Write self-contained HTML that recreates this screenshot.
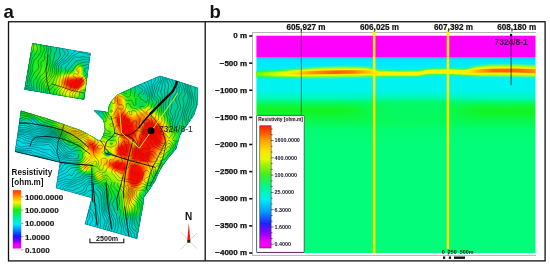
<!DOCTYPE html>
<html lang="en"><head><meta charset="utf-8"><title>Resistivity figure</title>
<style>html,body{margin:0;padding:0;background:#fff;}svg{display:block;}</style></head><body>
<svg width="550" height="266" viewBox="0 0 550 266">
<rect width="550" height="266" fill="#fff"/>
<rect x="8.5" y="21.75" width="536.6" height="239.15" fill="none" stroke="#111" stroke-width="1.3"/>
<path d="M205.2 21.75V260.9" stroke="#111" stroke-width="1.3"/>
<text x="3.6" y="18" font-family='"Liberation Sans", sans-serif' font-weight="bold" font-size="18.5" fill="#111">a</text>
<text x="209.6" y="18" font-family='"Liberation Sans", sans-serif' font-weight="bold" font-size="18.5" fill="#111">b</text>
<defs><clipPath id="mapclip"><polygon points="32.5,43.3 90.5,53.2 84.0,99.5 24.5,89.5"/><polygon points="21.0,110.8 45.0,118.0 64.0,124.4 81.0,130.5 92.0,136.5 98.0,140.2 100.5,140.6 103.0,136.0 105.0,130.0 104.5,124.0 103.0,119.5 94.0,110.6 101.0,111.0 108.0,112.3 109.0,106.0 111.0,101.8 117.0,95.0 135.0,86.6 155.0,78.0 160.0,76.0 177.0,81.0 198.0,88.0 197.2,105.0 194.0,115.0 187.0,125.0 180.0,135.0 176.0,149.0 169.0,157.0 163.0,165.0 158.5,173.0 155.0,181.0 149.5,189.5 144.0,197.0 143.0,205.5 137.0,238.7 85.0,224.0 91.8,197.8 56.0,188.0 60.0,162.4 15.0,151.8"/></clipPath></defs>
<g clip-path="url(#mapclip)">
<rect x="10" y="38" width="194" height="206" fill="rgb(0,208,231)"/>
<path fill="rgb(0,198,235)" d="M0 0l205.5 0 0 261.5-205.5 0 0-261.5zM33.5 119.8l-0.5 0.7 0 0.6 0.5 0.6 1-0.1 0.4-0.6-0.2-1-0.7-0.3-0.5 0.1zM107.5 153.3l-0.5 0.3-0.3 0.9 0.3 0.5 0.5 0.3 1-0.1 0.6-0.7 0-0.5-0.6-0.7-1 0z"/>
<path fill="rgb(0,217,227)" d="M0 0l205.5 0 0 261.5-205.5 0 0-261.5zM34 119.4l-1.1 0.6-0.2 1 0.3 0.7 1 0.5 1-0.6 0.2-0.6-0.2-1-1-0.6zM107 153.4l-0.4 0.6 0 0.5 0.4 0.6 1 0.4 1-0.5 0.2-1-0.3-0.5-0.9-0.4-1 0.3z"/>
<path fill="rgb(0,214,207)" d="M41.2 1l3.8-0.3 4 0.1 4 0.7 4 1.2 3.5 1.5 4 2.3 3.5 2.7 3 2.9 2.5 2.9 2.3 3 4 7 2.9 7 2.6 9 0.8 2 1.2 1.5 4.7 4.2 2.3 3.3 1.4 3.5 1.3 6.4 1 2.4 1.5 1.7 2 1.6 2.3 1.4 2.2 1 2.5 0.5 2-0.2 2-0.7 6-2.8 2.5-0.6 2-0.2 4.5 0.4 8.5 2.3 2 0.2 1.5-0.2 3-1.2 10.5-5.3 8.5-3.4 9-2.7 9.5-1.9 7-0.8 6 0 6 0.5 6.5 1.2 0 83.5-4 5.9-1.8 4-0.7 2.6-2.3 11.9-3.9 14-1.8 3.4-2 4.6-2.1 7-1.1 2.5-1.3 1.8-2.7 2.7-1.3 1.7-4.4 7.3-1.6 1.7-10.5 8.6-10.3 7.2-1.7 1.4-2 2.9-4.3 10.2-3 5.5-1.7 2.3-1.5 1.6-1.5 1.2-1.5 0.7-2 0.4-1.5-0.2-1.5-0.8-1.8-1.7-1.3-2-1.1-2.5-2.8-9-0.6-1-0.9-0.4-1 0.5-1.5 1.3-6.5 7.7-5.5 5.7-3.5 3.1-2.5 1.8-2.5 1.3-2 0.3-1-0.5-0.5-0.8-0.2-1 0.5-3.5 1.4-4.5 5.2-12.5 0.5-2-0.2-1.5-0.7-1-4-3.3-6.2-5.7-7.2-7.5-4.9-6-4.4-7-3.1-6.5-2.3-6.5-4.2-14-1.7-11.5-0.8-2.5-1.1-2-2.4-2.5-10.7-7.3-8-6.8-2.7-1.9-3.2-1.5-12.1-3.7-6.5-2.4-7.5-3.7-10-5.6 0-81.6 3.9-8 3.9-6.5 4.5-6 5.2-5.5 6-4.8 5.5-3.3 6-2.5 6.2-1.4zM108 153l-1 0.3-0.5 0.7 0.2 1 0.8 0.5 1-0.1 0.6-0.4 0.3-0.5-0.3-1-1.1-0.5zM33.5 119.3l-0.9 0.7-0.2 1.5 0.6 1 0.5 0.3 1 0 0.7-0.8 0.2-1.5-0.7-1-1.2-0.2z"/>
<path fill="rgb(0,210,187)" d="M42.2 25l4.8 0.2 2.5 0.6 2.5 0.9 2.5 1.4 2 1.3 3.8 3.6 2.9 4 2.4 4.5 1.8 5 2.3 9 0.7 1.5 0.8 1 1.3 0.4 2.5-0.3 4.1-1.1 3.9-1.8 1.5-0.3 2 0.4 1.4 1.2 0.8 1.5 0.5 2-0.6 6.5 0.4 3 1 2.4 3.7 5.1 2.1 4 1.3 4.5 0.7 5 0.2 0.7 0.5 0.3 1-0.4 5.8-4.1 3.2-1.9 8-3.1 6-3.3 2.5-0.8 3-0.1 3.5 1 3.5 1.9 7 4.7 2.5 1 2.5 0.2 3.1-0.6 5.4-2.9 3.5-1.1 10-3.7 10-2.6 3.5-0.6 3.5-0.3 3 0.1 3 0.5 3 1.2 2.5 1.5 2.3 1.9 1.7 2.1 1.8 2.9 2 4 0.2 0.5 0 12.1-0.9 2.9-6.4 18-1.6 3.5-2.3 3.5-5.8 5.8-1.1 1.7-0.9 2-0.7 3-1 8.5-1 4.5-1.7 5-3.7 9-0.1 1.5 0.2 3-1.5 6.3-0.5 0.8-1 0.7-1.5 0.3-3 0.1-1.2 0.8-0.5 2-0.2 7.5-0.3 1.5-0.8 1.5-1 0.8-1 0.2-4.5-0.5-1 0.2-0.7 0.8-1.5 3.5-0.9 1.5-1.4 1.4-2.7 1.6-1 1-2.6 6.5-3.7 7.5-2.9 9-1.5 3.5-2.1 3.4-2 1.7-1 0.3-1-0.1-1-0.5-1-1.1-1.4-3.2-1.6-6.5-0.9-1.5-1.1-0.8-1.5-0.1-2.5 0.7-2.5 1.2-5 3-1-0.1-0.5-0.4-0.6-1-0.2-1 0.4-6-0.2-1.5-0.4-1.1-1.5-1.4-5-1.9-2.5-1.6-6-6-1.7-2-1.5-2.5-1-2.5-1.8-7.7-0.9-2.8-4.1-7.8-1-1.1-0.9-0.6-5.1-1.8-2.5-1.3-2.3-1.9-1.9-2.5-1.1-2.5-0.4-2.5 0.5-7.5-0.3-3-0.9-2.5-1.6-2-2.8-2-8.2-4.9-4.5-3.5-7-7.8-6-4.8-0.5-1-0.7-2-0.9-1-4.4-2.4-0.3-2.1-0.7-1-1-0.4-1.2 0.4-0.7 1-0.6 2.9-1.5 1.2-1 0.3-2 0-4-0.8-2.5-0.9-3-1.5-8.5-5.5-4.3-3.7-1.2-1.5-0.9-1.5-1.2-5 0.1-1 0.5-0.5 1-0.5 2-0.4 9.5-0.7 2.6-0.9 0.9-1.1 0.1-0.9-0.3-1-3.6-7.5-1.9-5.5-1.2-6-0.5-6.5 0.3-6.5 1-6.5 1.7-6.5 3.3-9.5 1.7-3 2.4-2.8 4-3.9 4-3.2 3-1.9 3.5-1.7 3.5-1 3.2-0.5zM54 103.4l-2.6 0.6-2.5 1-1.2 1-0.3 1 0.5 1 1.7 1.5 2.5 1.5 4.1 2 9.6 3.5 16 5 5.7 1.4 3 0.5 2 0.1 1.5-0.6 1-1.3 1-4.1 0.9-9.5-0.4-2.7-0.5-0.9-1-0.7-1-0.3-2-0.2-10.5 0.7-8.5 0.2-15-0.8-4 0.1zM107.5 152.9l-0.9 0.6-0.3 1 0.7 0.9 0.5 0.2 1 0 0.8-0.6 0.2-1-0.2-0.5-0.7-0.5-1.1-0.1z"/>
<path fill="rgb(0,207,167)" d="M38.8 32.5l2.7-0.4 3 0 2.5 0.4 2.5 0.8 2.5 1.3 2 1.4 2.2 2 2 2.5 1.9 3 1.4 3 1.2 3.5 0.7 3 0.2 2-0.3 1.5-0.8 1.5-2 2.5-0.5 1.5 0.1 1 0.5 1 1.7 1.5 1.7 0.8 2 0.4 2 0.2 1.5-0.2 1-0.4 1-0.8 2.7-4 2.3-1.5 2.5-0.7 3-0.2 2 0.2 1.1 0.7 0.6 1 0.3 1.1 1 7.3 0.6 2.6 0.9 1.8 3.3 5.2 0.9 2 0.7 2.5 0.3 2-0.1 2-1.5 5-0.1 1 0.3 1.5 1.5 3 0 1-0.8 1-2.1 1-3.4 0.8-4 0.5-5 0.2-10-0.4-16.5-2.4-3 0.1-7.5 1-4.5-0.1-4.5-0.9-3.5-1.6-3.5-2.5-3-3.2-2.6-4-2.2-5-1.3-5-0.7-5.5 0-5 0.5-5 0.9-4.5 1.7-6.5 1.1-6.5 0.7-2 1.2-2 1.4-1.5 1.8-1.4 3-1.8 3.5-1.6 4.5-1.9 2.8-0.8zM125.1 81.5l1.9-0.3 1.5 0 3.5 1 3 1.8 5 3.9 2.5 1.6 3 1.4 3 0.8 1.5-0.2 3.5-1.4 2.5 0.5 1.5-0.1 11.5-4.1 12.5-3.3 4.5-0.7 3.5 0.3 2 0.6 2 1.1 1.5 1.2 1.7 1.9 1.3 2.3 1.3 3.2 1 3 0.4 2.5-0.1 4-0.8 4-5.2 14-2.6 5-6 8.3-1.5 2.9-1 2.6-0.7 2.7-1.1 6.5-0.9 4-1.6 4.5-3.4 8.5-0.4 3 0.6 4-0.2 1-0.8 2.1-1 1.4-1 0.5-4.5-0.2-1 0.3-0.5 0.6-0.5 2.3 0.5 8-0.3 2-0.7 1.2-1 0.7-1 0.1-4.5-1.3-1 0-0.5 0.4-0.4 0.9-0.8 4.5-0.6 1.5-0.7 1-1.5 1.1-3.5 1-1 0.9-0.6 1.5-0.8 4-0.8 3-3.5 8-2.8 8.5-1 2-1 1.5-1 0.8-1 0.4-1-0.1-1.1-1.1-0.9-1.9-1.6-5.6-0.9-1.2-1-0.7-2.5-0.5-7.5 1.3-1.5 0-0.8-0.4-0.7-1.5-0.9-5-1.1-1.9-1-1-1.5-1.1-4-1.6-2-1.3-1.6-1.6-1.9-2.5-4-6.5-0.8-2-1.2-4.5-0.9-2-3.8-5.5-3.3-5.4-1.7-1.1-4.3-0.9-2.5-0.9-2-1.3-2-1.9-1.4-2.5-0.7-3 0.1-2.5 0.8-5.5-0.1-3-0.7-2.5-1.5-2.1-2.4-1.9-7.6-4.4-4.4-3.1-3-3-4.1-5.3-2-2.2-7.4-6.5-2.6-1.5-3.4-1.5-0.9-2-0.7-0.8-1-0.3-0.7 0.1-0.8 0.5-1.5 2-0.5 0.2-4.5 0.9-2-0.2-2-0.5-2-0.9-2-1.2-4.8-3.8-3.1-3-1.4-2-1.9-5 0.1-1 0.6-0.5 2.5-0.5 15-0.1 4 0.5 4.5 1.4 18.9 7.7 6.8 2.5 13.8 4.3 15.9 5.2 4.1 1.1 2 0 1-0.5 0.5-0.6 0.9-3 2.6-15 0.2-6 0.3-1.5 0.7-1.5 4.6-7 2.5-3 2.7-1.8 2.5-1 6.2-1.7 5.4-2.5zM107 153l-0.8 1 0.3 1.1 1 0.6 1 0 0.5-0.3 0.6-0.9-0.2-1-0.9-0.7-1.5 0.2z"/>
<path fill="rgb(0,204,147)" d="M36.7 37l5.8-0.2 2.5 0.3 2 0.5 2 0.9 2 1.2 2 1.6 1.6 1.7 1.8 2.5 1.4 2.5 1 2.5 0.6 2.5 0.1 1.5-0.2 1.5-1.8 5 0.2 2 1.2 2 2 1.5 2.1 0.9 2 0.5 2.5 0.3 2-0.1 1.5-0.6 1-0.7 3.1-4.3 0.9-0.8 1.5-0.8 1.5-0.3 2 0.1 1.5 0.6 1.4 1.2 0.8 1.5 0.5 1.5 1.5 7.5 3.5 6 1 2.5 0.5 2 0.2 2-0.2 2-2 6 0.1 1 0.9 3-0.2 1-0.8 1-2.2 1-3.5 0.7-4.5 0.4-5 0-9-1-14.5-3.1-10.5-0.4-4.5-1.1-4.5-2-3.1-2-2.9-2.8-2.5-3.7-1.8-4-1.2-4.5-0.7-4.5 0-4 0.3-4.5 2.4-10.7-0.1-5.8 0.3-2 0.7-2 1.1-1.5 1.5-1.4 1.5-0.9 4-1.6 5.7-1.1zM125.5 84l3-0.4 3 0.7 2.5 1.3 7 5.4 6 3.7 1.5 0.3 3.5-1 1 0.5 1.5 1.4 1 0.3 6-0.3 14-2.1 3-0.7 6.5-2.3 2-0.3 2 0.2 1.5 0.7 1 0.8 1.7 2.3 0.8 2.5 1.4 7 0 2-0.4 3-1.4 6-1.3 4-2 4.5-5.3 8.4-2 4.1-1.6 4.5-2.8 11-4.3 11-0.6 4 0.1 2 0.5 3-0.2 1.5-1.1 1.4-1 0.5-1.5 0.1-3.5-0.5-1.5 0.6-0.6 0.9-0.2 1.5 0.8 8-0.1 2-0.5 1.5-0.9 0.9-1 0.1-1.5-0.3-3.5-1.5-1 0.1-0.4 0.2-0.6 1.5-0.4 5.5-0.5 1.5-0.6 1-1 0.8-1 0.3-4 0.4-1 1-0.5 1.8-0.7 5.7-1 3.5-2.9 6.5-2.9 7.4-1 1.5-1 0.6-1-0.4-0.5-0.6-1.8-4.5-0.8-1-1.4-0.9-1.5-0.5-2-0.2-6 0.5-2-0.5-1-0.5-0.8-1.4-1.7-5-2-3-2-1.6-4.5-1.8-2.1-2.1-1.2-2-0.9-2-1.9-6.5-0.9-2.5-1.6-2-3.4-2.8-2-2.1-4.1-6.6-0.9-0.8-1-0.4-4.5-0.7-2.5-0.8-2-1.3-1.6-1.5-1.4-2.5-0.5-2.5 0.1-2.5 1-5.5-0.1-4-0.8-2.5-1.5-2-2.7-2-6.5-3.7-4-2.7-3.7-3.6-3.9-5.5-2.4-2.6-5-3.9-3-2-2.9-1.5-3.6-1.4-1.4-2.1-0.6-0.5-1-0.3-1 0.2-2.5 1.8-5 0.5-3-0.4-3-1.5-2.7-2.3-2.7-3-0.9-1.5-2.6-5.5-0.1-0.5 0.5-0.7 1-0.4 2-0.2 10.5 0.4 4 0.6 13.5 4.5 15.8 5.8 18.2 5.7 16 5.8 2.5 0.8 1.5 0 0.8-0.3 0.6-0.5 0.7-1.5 1.6-9.5 3.5-15.5 4.6-10 2.2-2.4 2.5-1.4 3-0.9 5.5-1 4.5-1.8zM175 119.4l-0.4 0.6 0.1 1 0.6 1 0.7 0.3 0.5-0.8-0.2-1-0.8-1-0.5-0.1zM107 152.9l-0.7 0.6-0.2 0.5 0.2 1 1.2 0.8 1 0 0.6-0.3 0.6-1-0.2-1.1-1-0.7-1.5 0.2z"/>
<path fill="rgb(2,210,122)" d="M31.7 39.5l2.3-0.3 3-0.1 5.5 0.8 4.5 1.6 2 1.3 2 1.7 3 3.8 1.2 2.2 0.7 2 0.4 3-0.9 5.5 0.6 2.5 1.5 2.2 2.6 1.8 2.4 0.9 2.5 0.5 3 0.2 1.8-0.1 1.2-0.4 1-0.6 1-1 2.5-3.6 1-0.9 1-0.6 1.5-0.3 1.5 0.1 1.5 0.7 1 0.8 0.9 1.3 0.8 2 1.2 7 3.4 6 0.9 2.5 0.4 2 0 2-0.3 2-2.3 5.5 0.6 4-0.5 1-0.5 0.5-1.6 0.8-2 0.6-5.5 0.5-7-0.3-7-1-13.9-3.6-7.6-0.9-3-0.8-3-1.3-3.6-2-2.8-2-2.1-2-2.9-4-2.1-4.9-1.1-5.6-0.1-5.5 0.5-4.5 1.9-8-0.1-2-0.9-4.5 0-1.5 0.3-1.5 1.1-2 1.6-1.5 2.3-1.2 2.7-0.8zM126.1 86l1.9-0.4 1.5 0 1.5 0.4 2 0.9 2.5 1.7 11.1 8.9 1.4 0.2 2-0.8 1-0.1 0.5 0.2 1.5 1.8 1 0.7 7 1.6 2.5 1 2.1 1.4 2 2 1.7 3 1.1 3 1.1 6.7 0.8 2.8 1.7 3.4 1.5 1.5 1 0.2 1.5-0.8 1.1-1.3 2.9-4.4 1.5-1.5 2-1.5 2-0.9 1 0 0.8 0.8 0.2 1-0.1 2-0.8 2.5-4.9 9.5-2.2 4.8-2.9 7.7-2.1 7.7-3.5 8.4-0.6 3.9 0.1 4 0.4 3-0.2 1-0.7 0.9-1 0.4-5-0.4-1.1 0.1-1 0.5-0.5 1-0.1 1.5 1 8 0 1.5-0.4 1.5-0.9 0.9-1 0.1-1.5-0.4-3.5-1.7-1 0-0.8 0.6-0.6 2 0.1 5.5-0.5 2-0.7 1-1 0.6-1.5 0.2-3.5-0.2-0.9 0.4-0.4 0.5-0.7 2.5-0.6 7-0.9 3-1.4 3-2.6 4.6-1 1.5-1 0.9-1-0.2-2-1.5-2-0.7-4-0.5-5 0.3-2-0.5-1.5-0.9-1.1-1.5-2.9-7.5-1.5-2.6-1.5-0.9-2.5-0.4-1.5-0.5-1.5-1.1-1-1.4-1.4-3.1-1.8-7-1.4-2.5-1.2-1-3.7-2.1-2-1.7-1.7-2.2-2.8-4.9-1-0.9-1.5-0.5-3.5-0.3-2-0.4-2-0.9-2-1.6-1.6-2.5-0.6-2.5 0.1-2.5 1.3-6 0-4-0.8-2.5-1.9-2.4-2.5-1.8-7-3.9-3.4-2.4-3.4-3.5-3.4-5-1.8-2.2-4.1-3.3-4.7-3-3.2-1.6-4.5-1.7-2-2.1-1-0.5-1.5 0-2.5 1.3-5 0.3-2.5-0.4-2.7-1.3-2.2-2-1.5-2-3-7 0.1-0.5 0.9-0.5 2.9-0.3 6.5 0.2 4.5 0.8 14 4.5 14.7 5.3 18.3 5.8 18.5 7.3 1.5 0.4 1.5 0 1.1-0.5 0.8-1.5 1.3-8.5 1-4.5 3.7-13 3-8.5 1.1-2.2 2-2.1 2.5-1.2 3-0.7 5.5-0.4 4.1-1.4zM107 152.7l-0.8 0.8-0.2 0.5 0.1 1 0.4 0.5 0.5 0.3 1 0.2 1.2-0.5 0.7-1-0.4-1.3-1-0.6-1.5 0.1z"/>
<path fill="rgb(4,217,97)" d="M32.9 40.5l4.1 0 4.5 1.1 4 2.1 3.3 2.8 2.6 3.5 1.6 3.5 0.5 2.5 0 5 0.6 2.5 1.6 2.5 1.3 1.2 1.5 0.9 2.4 0.9 2.6 0.5 4 0.4 2.5-0.1 1.5-0.5 1-0.8 3.4-4.5 1.6-1.2 1-0.4 1.5 0 1.5 0.6 1 0.9 1 1.4 0.7 1.7 1 6.5 3.1 5.5 0.9 2.5 0.4 2.5 0 2-0.4 2-2.6 5.5 0.3 3.5-0.4 1-0.5 0.5-1.5 0.8-2 0.5-6 0.5-7.5-0.6-7.5-1.4-11-3.6-6.5-1.3-3-0.9-2-1.1-2.7-1.9-5.6-5-2-2.5-1.4-2.5-1.2-3-0.8-3.5-0.3-3.5 0.1-4 0.6-3.5 1.5-5.5 0.1-1.5-0.4-2-1.6-4-0.2-2.5 0.5-2 1.8-2 2.6-1.4 2.9-0.6zM127.8 87.5l1.7-0.1 1.5 0.3 3 1.5 7.6 6.3 3.9 4.5 1 0.2 3-1.1 1 0 2.5 2.5 6 2.1 2.5 1.4 2 1.4 2.4 2.5 1.6 2.4 1.2 2.6 3.3 9 1.5 2.7 1.5 1.7 1.5 0.5 1.5-0.4 1.4-1 3.1-2.8 1-0.6 0.5-0.1 0.3 1-0.4 2-3 9-1.7 4.5-1.9 4-3.5 6-3.8 5.1-3.7 5.9-3.3 4.3-0.6 1.2 0.1 0.5 0.5 0.3 1-0.4 2.3-3.9 1.1-1.5 1.6-1.5 1.5-0.7 0.5 0.6 0.1 0.6 0.3 11-0.4 0.6-1 0.4-6-0.1-2 0.6-0.3 0.5 1.3 8 0.2 2.5-0.5 2-0.5 0.5-0.7 0.2-2-0.6-4.4-2.1-0.4-0.5 0.1-1 0.4-1.5 1.7-3.5 2.1-2.6 2.4-1.9-0.4-1-0.5-0.5-0.5-0.1-1 0.3-1 1-6 9-1.5 2.6-0.9 2.2 0 0.5 0.4 0.1 2-1.1 0.5-0.2 0.6 0.2 0.8 6.5-0.1 1.5-0.4 1.5-0.9 1.1-1 0.4-1 0-2.3-0.5-1.7-0.7-0.5-0.7-0.5-1.8-1 1-1 1.7-0.2 1 0 0.5 0.7 1.8 0.1 3.7-0.3 4.5-0.7 3-1.6 3.1-2 2.5-1.5 1.1-2 0.5-6.5-0.3-4.5 0.3-2-0.5-1.5-0.9-1.1-1.3-1.1-2-1-3-1.3-5.4-0.9-2.1-0.6-0.6-1-0.4-2.5 0.3-1.5-0.2-1-0.4-1-0.9-1.6-2.8-2.1-7.5-1.3-2.2-1.5-1-4-1.8-2-1.5-2-2.5-2.5-4.8-1-0.9-1.5-0.4-3.5-0.1-2-0.4-2.2-0.9-1.9-1.5-1.5-2.5-0.4-2.5 0.2-2 1.4-5.5 0.2-2.5-0.1-2.5-0.8-2.5-1.9-2.5-2.5-1.8-7-3.9-3.3-2.3-2.9-3-3.3-5-1.7-2-3.8-3.3-4-2.7-4.5-2.2-6-2.2-2-1.8-1-0.5-1.5 0.1-2.5 0.8-5 0-2-0.2-2.2-1-1.7-1.5-1.1-1.5-0.6-1.5-0.6-2.5-1.1-2.5 0-0.5 0.5-0.5 2.8-0.5 5 0.2 4.5 0.9 13.5 4.2 14.5 5.2 18 5.8 7.5 2.9 12 5.2 2 0.6 1.5 0 1-0.6 0.7-1.4 1-8 0.8-4 5.8-18 1.4-5.5 1.2-2.5 0.9-1 1.2-0.9 2.5-1 3-0.4 5.5 0.1 4.8-1.3zM107.5 152.4l-1.1 0.6-0.4 0.5-0.2 1 0.6 1 0.6 0.4 1.5 0.1 0.9-0.5 0.4-0.5 0.2-1-0.5-1-0.5-0.4-1.5-0.2z"/>
<path fill="rgb(7,223,72)" d="M32.9 41.5l3.6 0.1 3.2 0.9 2.9 1.5 2.8 2.5 2.5 3.5 2.1 4 0.8 2.5 0.9 5.5 1 2.5 1.8 2.5 1.1 1 1.7 1 2.2 0.8 3 0.5 4.5 0.4 3-0.1 1.5-0.5 1-0.7 3.5-4.6 1.5-1.3 1-0.4 1.5 0.1 1 0.4 1.2 0.9 1 1.5 0.5 1.5 0.8 6 3.2 5.5 0.7 2 0.4 2.5 0 2-0.4 2-0.8 2-2.1 3.5-0.3 1 0.1 3-0.6 1-1.7 0.9-2 0.5-6 0.3-7-0.6-7.5-1.8-3.9-1.3-6.6-2.8-5.5-1.4-2.5-1-3.1-2.3-5.7-6-2.1-2.5-1.2-2-1.1-2.5-0.8-3-0.4-3.5 0.2-3.5 0.6-3.5 1.5-5 0.1-1.5-0.6-2-2.4-4-0.7-2.5 0.4-2 1.3-1.6 2-1.2 2.9-0.7zM127.4 89.5l2.6-0.3 1.5 0.4 1.5 0.7 2.9 2.2 3.9 3.5 1.3 1.5 0.7 1.5 0.1 1-0.5 1-1.8 1.5-0.7 1-0.2 1.5 0.8 1.1 1 0.4 1.5-0.4 3-3.1 3-1.7 1.5-0.5 1 0.5 2 1.9 5 2.1 5 3.3 2.5 2.4 2 2.8 4.5 10 2.5 4.2 1 0.9 1 0.4 3.5 0.1 0.5 0.6 0.2 1.5-0.2 2.5-0.8 3-1.1 3-1.4 3-3 5-4.7 6.8-3.3 5.2-3.3 4.5-0.7 1.5 0 1 0.3 0.5 1 0.3 1-0.3 1-0.9 1.3-2.6 1.2-1.6 1-0.9 0.5-0.1 0.5 0.1 0.5 1.3 0.2 2.7-0.3 4-0.4 1-1.5 0.4-4.5 0.1-1-0.1-2-0.8-1.5 0.5-1.2 0.9-5.8 8.6-4.8 8.4-3.7 5-2 3.9-0.5 2.3 1.6 1.8 0.2 3.5-0.7 4-1.5 3-2.1 2.2-2.7 1.3-2.3 0.4-3.5-0.2-3.5 0.4-2-0.2-1.5-0.6-1.4-1.3-1.4-2-0.7-1.7-0.6-2.3-1.1-8-0.6-1.5-0.7-0.9-0.5-0.3-1 0-3.5 1.1-1-0.1-1-0.6-1.5-2.2-1.9-6.5-1.1-2.2-1.5-1.3-5-1.7-2-1.4-2-2.4-3-5.7-1.5-0.7-4 0.1-2.5-0.4-2.5-1.2-1.6-1.6-1-2-0.3-2.5 0.4-2 1.4-5 0.2-5-0.8-3-1.8-2.4-2.1-1.6-7.1-4-3.5-2.5-2.5-2.5-3.3-5-1.7-2-5.3-4.5-3-2.1-3.5-1.6-8-2.8-2-1.5-1-0.4-1-0.1-2.5 0.4-5.5-0.1-2-0.3-1.5-0.8-1.4-1.2-0.9-1.5-1.3-5.5 0.1-0.5 0.5-0.3 1-0.3 2.5-0.2 2.5 0.2 3.5 0.7 11 3.2 18 6.4 18.5 6.1 7.5 3 12 5.6 1.5 0.5 1.5 0.1 1.1-0.5 1-1.5 0.3-2 0.4-6 0.7-4 3.7-10.5 2.3-7.4 1.3-6.6 1.1-2.5 0.9-1 1.2-0.8 2.5-0.9 3.5-0.2 5.5 0.7 3.4-0.8zM107 152.5l-1.2 1-0.1 0.5 0.1 1 1.2 1 1 0.2 1-0.3 1-0.9 0.2-1-0.2-0.5-0.5-0.7-1-0.5-1.5 0.2zM159.1 175.5l0.9-0.5 0.5 0.1 0.5 0.7 0.5 1.8 0.5 2.9 0.1 2-0.3 1-0.3 0.6-0.5 0.3-1-0.1-2-0.9-1.2-0.9-0.6-1 0-1.5 0.6-1.5 1.2-1.9 1.1-1.1zM150.9 187.5l0.6-0.2 0.5 0.2 0.5 0.9 0.4 2.1 0.1 2-0.6 2-0.9 0.7-1 0.2-1.5-0.3-1-0.6-0.6-1-0.1-1 0.4-1.5 0.9-1.5 0.9-1 1.4-1z"/>
<path fill="rgb(9,230,47)" d="M32.4 42.5l2.6-0.1 3 0.7 2.5 1.3 1.9 1.6 1.3 2 1.8 4.5 2 4 2.1 6 1.2 2.5 2.2 3 1.5 1.3 1.3 0.7 2.2 0.7 2.5 0.3 7 0.4 3-0.2 1.5-0.5 0.8-0.7 3.2-4.5 1.5-1.3 1-0.4 1.5 0 1 0.5 0.9 0.7 1 1.5 0.5 1.5 0.6 5.7 3.2 5.3 0.6 2 0.4 2.5-0.1 2-0.5 2-0.9 2-2.4 3.5-0.3 1-0.1 2.5-0.5 1-0.9 0.7-1.5 0.5-5 0.5-6-0.4-6-1.1-6.7-2.2-7.8-4.2-5.5-1.7-1.9-1.1-1.6-1.5-7.6-10-1.4-3-0.8-3-0.3-3 0.3-3.5 0.7-3 1.7-4.5 0.1-1.5-0.7-1.5-4.1-4.5-0.7-1.5-0.2-1.5 0.5-1.5 1-1.1 1.5-0.9 1.9-0.5zM115.2 90.5l3.8 0 6 1.4 1.5-0.1 2.5-0.7 1.5 0 1.5 0.5 1.5 0.9 4.1 4 1.5 2 0 1.5-1.5 2.5-0.4 1.5 0.1 1 0.5 1 1.2 1 1.5 0.3 1.6-0.3 0.9-0.6 3.5-3 1.5-0.9 1-0.3 1 0.4 2 1.8 3.5 1.7 4 2.5 3.5 2.7 2.5 2.7 2 3.1 4 8.3 2 3.5 1.5 1.5 2.9 1.1 0.6 1.5-0.3 4-1.6 4.5-4 7-11.2 16.5-0.4 1.5 0.4 2.5-3.1 1.5-1.6 1.5-5 7.5-4.7 8-3.6 5-2 3.5-1.4 3-0.7 2.5 0.2 0.9 1.5 0.6 0.6 1.5-0.3 3-1 2.5-1.3 1.8-1.5 1.3-2 1.1-1.5 0.4-3-0.1-4.5 0.6-2-0.4-1.5-0.9-1.8-2.3-1.2-2.6-0.5-2.9-0.6-8-0.4-2-1-2-0.5-0.5-1-0.3-1 0.3-3 1.7-1.5-0.1-1-0.9-0.5-0.9-1.9-5.8-1.2-2-1.9-1.3-5-1.1-2.5-1.6-1.7-2-2.3-5.2-1-1.2-1-0.3-4 0.4-2.5-0.3-2.2-0.9-1.7-1.5-1.1-2-0.3-2.5 0.4-2 1.6-5 0.3-5.5-0.3-1.5-0.5-1.5-1-1.5-1.2-1.3-2.5-1.8-7-3.9-2.6-2-2.4-2.5-2.6-4-1.7-2-9.2-8-2.5-1.1-9.5-2.9-3.5-1.8-9-0.5-2-0.4-1.2-0.8-1-1.5-0.9-4.5 0-0.5 0.4-0.5 0.7-0.3 1.5-0.2 2.5 0.1 3.5 0.8 11 3.1 6.1 2 10.9 4.1 20 6.6 7 3 12 6 2 0.6 1.5-0.1 1.2-0.7 0.9-1.5 0.2-7.5 0.6-4 1.1-3.4 2.6-6.1 2.3-7.5 0.6-2.5 0.6-5 0.5-2 0.8-1.5 1.1-1.2 1.5-0.8 1.7-0.5zM107 152.3l-1.3 1.2 0 1.5 0.3 0.5 1 0.7 1 0.1 1-0.2 1.1-1.1 0.1-1.5-1.2-1.2-1-0.2-1 0.2zM167.9 163.5l0.7 0 0.4 1.5-0.3 1.5-0.7 1.2-1.2 1.3-0.8 0.5-2 0.3-1.2-0.3 0.1-0.5 2.8-1 1-3 1.2-1.5zM159.5 176.5l0.5 0.2 0.5 0.8 0.5 2.5-0.1 1.5-0.4 0.7-0.5 0.3-1-0.1-1-0.5-0.5-0.5-0.4-0.9 0.1-1 0.6-1.5 0.7-0.9 1-0.6zM150.3 189l0.7-0.2 0.5 0.2 0.5 1 0.2 1.5-0.1 1-0.4 1-1.2 0.7-1.5-0.4-0.5-0.6-0.2-0.7 0.6-2 1.4-1.5z"/>
<path fill="rgb(38,234,31)" d="M32.2 43.5l2.3-0.2 2 0.4 2 0.9 1.7 1.4 1 1.5 0.3 2-0.5 2-1 1.3-1.5 0.6-3-0.6-3.5-1.6-2.1-1.7-1-2 0-1.5 1.1-1.5 2.2-1zM39 57l1-0.4 1 0.1 1.5 0.6 1 0.8 1.5 1.7 3.2 5.7 1.8 2.5 3 2.7 1.5 0.8 1.5 0.4 12.5 0.1 2.5-0.2 1-0.3 1-0.8 3-4.4 1.5-1.5 1-0.4 1-0.1 1 0.3 1 0.8 1 1.4 0.5 1.7 0.5 5.5 3.2 5 0.6 2 0.3 2.5-0.1 2-0.6 2-1 2-2.7 3.5-0.4 1-0.2 2-0.4 1-0.7 0.6-1.5 0.6-4.5 0.5-6-0.4-6-1.3-4.5-1.5-2.9-1.5-2.5-2-1.6-2.3-1-1-1.5-0.5-4-0.5-1.5-0.6-1.4-1.1-2-2.5-5.1-9.2-1.2-2.8-0.5-2.5 0.1-3.5 1-3.5 1.6-2.7 1.5-1.6 1-0.7zM113.9 91.5l2.1-0.4 2.5 0 2.5 0.6 5 2.1 1.5 0.2 3-0.4 1.5 0.6 1.4 1.3 1 2 0.2 1.5 0 3 0.9 3 1 1.5 2 1.2 2 0.3 1.5-0.3 1.3-0.7 4.2-3.3 1-0.3 1 0.3 2 1.7 3 1.7 6.5 4.5 3.5 3.1 1.5 1.9 1.5 2.5 5.5 10.7 1 1.3 2.7 1.9 0.5 1.5-0.1 2-0.4 2-1.7 4.4-3 5.2-3.4 4.9-3.6 5.8-4.1 5.7-0.5 1.5 0 2.5-0.4 0.5-3.3 2-0.9 1-4.6 7-4.7 8-3.9 5.5-1.7 3-2 4.5-1.2 3.5 0 1 0.3 0.3 1.5 0.2 0.5 0.5 0 2-0.8 2-1.7 2-2 1.3-1 0.3-2.5 0-4 1.1-2-0.1-2-0.8-1.5-1.7-1.5-2.9-0.8-3.2-0.7-11.4-0.8-2.6-1-1.5-1.2-0.7-1 0-1 0.3-2.5 1.3-1-0.1-1-1.3-1.9-4-2.1-2-1.5-0.7-5-0.3-1.5-0.7-1.5-1.1-1.6-2.2-1.9-5-1-1.4-1-0.2-4 0.7-2.5-0.1-2.5-1-1.6-1.5-1-2-0.1-2 0.4-2 1.7-4.5 0.5-6-0.3-2-0.6-1.5-2-2.7-2.5-1.9-6.5-3.7-3-2.3-2-2.1-3.5-4.8-6.7-6-1.6-2-1.2-2-1-0.9-2-0.7-9.3-1.9-4.7-1.8-5.5-1.6-4.5-0.1-1-0.5-0.5-0.5-0.4-1.5-0.3-2.5 0.2-0.5 1.5-0.5 4.1 0.5 10 2.5 7.5 2.5 10.4 4.2 9.4 2.8 11.1 3.8 7.3 3.2 12.2 6.4 2 0.6 1.5-0.1 1.9-0.9 0.8-1.5 0.1-1.5-0.3-5.5 0.3-4 1.2-3.8 2.9-6.2 2.2-7 0.6-3 0.4-5.5 0.5-2 0.7-1.5 0.7-0.8 1.9-1.2zM108 152l-1.7 0.5-0.5 0.5-0.4 1 0.4 1.5 0.7 0.6 1 0.3 1 0 1-0.5 1-1.4-0.1-1-0.4-0.7-1-0.7-1-0.1zM158.7 179l0.3-0.4 0.3 0.4 0.1 0.5-0.4 0.5-0.5-0.5 0.2-0.5zM150.3 190.5l0.3 0 0.4 0.5 0 0.5-0.5 1-0.5 0.1-0.5-0.6 0-0.5 0.5-0.8 0.3-0.2z"/>
<path fill="rgb(78,238,20)" d="M32.5 44.5l2.5-0.1 1.5 0.5 1.1 0.6 1 1 0.4 1 0.1 1-0.5 1-1.1 0.9-2 0.3-2-0.4-2-1.1-1-1.2-0.2-1.5 0.7-1.2 1.5-0.8zM78.3 65l1.2-0.1 1 0.3 0.9 0.8 0.7 1 0.7 2.5 0.2 4.5 3.1 4.5 0.7 2 0.3 2-0.2 3-0.9 2.5-1 1.6-2.9 3.4-0.5 1-0.6 2.5-1.4 1-3.6 0.7-5-0.2-5.5-1-4.8-1.5-2.9-1.5-1.7-1.5-0.6-1-1-3.4-1.5-1.8-2-1-4-0.1-1.5-0.3-1.9-1.4-1.2-2-1.1-3.5-1.3-8.5 0.2-2 0.8-0.8 0.5 0 1 0.4 9.5 6.1 1.5 0.6 1.5 0.2 7-1.1 8-0.3 2-0.4 1.5-1.1 3-4.8 1-0.9 0.8-0.4zM114.4 92l2.6-0.3 2.5 0.3 2.5 1 3 2 1 1 1.2 1.5 1.2 5 0.6 1.4 1.5 1.6 1.8 1 5.2 1.8 3 0.3 2.5-0.7 4.5-3.3 1-0.1 1 0.4 1.5 1.3 10.5 7.5 3 2.8 3 4.3 5.4 10.7 0.8 1 1.7 1.5 0.6 1.5-0.2 2-0.7 2.5-2.5 5.5-4.6 6.8-3.5 5.7-4.7 6.5-0.2 1 0.3 2-0.2 1-0.7 0.6-2.8 1.4-1.5 1.5-3.7 5.6-5 8.7-3.6 5.2-1.8 3-3.3 7.5-1.8 5.3 0 1.7 1.5-0.6 0.3 0.1-0.3 1-1 0.6-1-0.4-4 2.5-2.5 0.9-2 0-2-0.8-1.2-1.3-1.2-2.5-0.7-2-0.4-2.5-0.9-13-0.6-2.1-1-1.5-1.5-1-4-1.2-7.5-3.9-1-0.1-4 0.6-1.5-0.3-1-0.4-1.5-1.3-1.3-1.8-0.8-2-1-4-0.4-0.8-0.5-0.4-1-0.1-4 1.3-2 0.1-2.5-0.6-2-1.5-1.1-2-0.1-2 0.5-2 1.7-4 0.7-6-0.2-2.5-1-2.5-1.5-2.1-2-1.8-7-4.2-3.1-2.4-5.4-6.5-6.5-5.5-1-1.5-0.3-1 0.3-2.5-0.2-1 0.2-0.2 2.3 0.2 4.8 1 11.4 3.6 6 2.3 5.4 2.6 12.6 6.8 2.5 0.4 1.5-0.3 1.5-0.7 1.3-1.2 0.2-1-1.2-6.5 0-3 0.5-2.5 0.7-2.1 3-5.8 2.4-8.1 0.6-3 0.2-6 0.5-2 1.3-2 1.9-1zM107 151.9l-1.4 1.1-0.4 1 0.1 1 1.2 1.3 1.5 0.3 1-0.2 1-0.7 0.5-0.7 0.1-1.5-0.6-1-1-0.6-1-0.2-1 0.2zM110.5 134l-0.5 0-0.7 0.5-0.3 0.5-0.1 1 0.4 1 0.7 0.7 1 0.5 0.5-0.1 0.5-0.6 0-1.7-0.5-1.1-1-0.7zM28.9 111.5l2.1-0.1 3 0.5 7.8 2.1 7.7 3 2.8 1.5 1.2 1-1.5 0.1-7-1-7-1.6-3.5-1.3-3.2-1.7-2-1.5-0.4-0.5 0-0.5z"/>
<path fill="rgb(119,242,8)" d="M33 46l1.5-0.1 1 0.3 0.8 0.8 0 1-0.6 0.5-0.7 0.2-1-0.1-1-0.5-0.6-0.6-0.1-0.5 0.1-0.5 0.6-0.5zM78.5 65.5l1-0.1 1 0.4 1.4 1.7 0.5 2 0.1 4.5 0.5 1 2.7 3.5 0.7 2 0.2 2-0.3 3-0.9 2.5-1.4 1.9-3.1 3.1-0.6 1-0.6 2-1.2 1-3.5 0.6-5-0.2-5.5-1.2-4.2-1.7-1.5-1-0.9-1-1.3-4.5-4.1-5.9-1.5-1-3 0.4-1-0.2-0.6-0.3-0.7-1-0.2-1 0.1-1 0.4-1 1-0.7 1.5 0 2.5 1.3 1 0.2 1.5-0.5 4.6-2.3 3.1-1 3.8-0.6 6-0.3 1.5-0.3 1-0.7 0.5-0.6 1.5-3 1-1.5 1-1 1-0.5zM114.9 92.5l2.1-0.2 2.5 0.4 2.5 1.1 2 1.7 1.7 2.5 1.3 5.4 0.9 2.1 1.6 2 2 1.3 2 0.3 7.5 0 2.5-0.9 3.5-2.5 1-0.3 1 0.3 6.5 5.4 6 4.2 3 2.9 1.5 2 2 3.3 2 4 2 5 2.3 3 0.3 1-0.1 1.5-0.5 2-2.6 5.5-3.9 5.8-3.4 5.7-5.3 7.5-0.2 1 0.7 2-0.3 0.9-0.8 0.6-3.2 1.5-1.5 1.8-3 4.6-5 8.6-5.1 7.5-1.5 3-3.9 9.6-1.5 2.9-1.2 1.5-1.1 1-1.2 0.7-1.5 0.4-2-0.1-1.5-0.7-1-1.2-0.7-1.6-1.8-7.9-0.7-11.6-0.4-1.5-0.9-1.7-1.5-1.3-5.5-2.7-4-1.4-3-1.5-1 0.2-2.1 1.4-1.4 0.4-1.5 0-1.5-0.6-1.5-1.3-1.1-2-0.8-3-0.3-4.5-0.3-0.6-0.5-0.3-1 0.3-3.6 2.1-2.4 0.6-2.5-0.2-1.5-0.7-0.9-0.7-1-1.5-0.3-2 0.4-2 2.1-4.5 0.8-5.5-0.1-3-1.2-3-1.3-2-2-2.1-7.5-4.8-2.5-2.1-5-5.5-6.3-5-1.1-1.5-0.3-1 0.2-0.8 0.4-0.7 1.6-0.9 2.5 0 4 0.9 9.6 3 5.1 2 3.9 2 13.9 7.9 2.5 0.5 4-0.7 1.5 0 1.5 0.6 4 3.1 1 0.1 0.5-0.2 1.2-1.3 0.5-2-0.3-2.5-1.4-3.4-1-1.3-1-0.5-1 0.2-2 1.2-1 0-0.5-0.2-1-1.2-0.5-1.2-0.4-3.6 0.2-2 0.7-2.1 2.4-3.9 0.9-2 2.4-9 0.5-3 0-6 0.4-2 0.4-1 0.9-1 2-1zM106.5 151.9l-0.8 0.6-0.6 1-0.1 1 0.4 1 0.6 0.7 1 0.5 1.5 0 1-0.4 0.9-0.8 0.5-1 0-1-0.4-0.8-0.5-0.6-1-0.5-1.5 0-1 0.3zM33.9 113l1.4 0 2.2 0.4 3.7 1.1 3.8 1.5 1.4 1-0.9 0.2-1.5-0.1-4.7-1.1-3.9-1.5-1.5-1 0-0.5z"/>
<path fill="rgb(160,245,0)" d="M78.7 66l1.3 0.1 1.4 1.4 0.6 2.2-0.1 4.3 0.5 1 2.6 2.9 0.9 2.1 0.3 2-0.1 2-0.4 2-1 2-1.7 2.1-3.4 2.9-1.7 3-1.4 0.7-3 0.4-4-0.3-3.6-0.8-3.8-1.5-1.5-1-0.7-1-1-3.5-3.1-5.5-0.5-2.5 0.6-2 1.1-1.5 1.2-1 3.3-1.6 4-0.8 6.5-0.4 1.5-0.6 0.9-1.1 1-2.5 1.1-1.9 1-1 1.2-0.6zM115.5 93l2.5 0 2 0.5 1.8 1 1.6 1.5 1.5 2.5 1.2 5.5 0.9 2.3 2 2.6 2 1.4 2 0.4 4-0.7 4-0.4 2.5-0.9 3.5-2.2 1-0.1 1 0.4 5.5 5 7 5.1 3.5 3.7 1.9 2.9 1.6 3 1.4 3.5 1.4 4.5 1.7 3.5-0.1 1.5-0.4 1.5-2.1 4.5-3.4 5-3.2 5.5-5.8 8.5-0.2 1 0.6 2-0.1 0.5-0.5 0.5-3.3 1.5-1.7 2-7.6 12.5-5.8 8.5-4.4 10.4-2 4.1-2 2.3-1 0.7-1.5 0.4-1.5 0-1-0.4-1-0.9-0.8-1.6-0.8-5-1.4-5.5-0.5-10-0.5-1.8-1-1.8-2-1.6-5.5-3.1-3.5-1.5-0.9-1.2-1-3-0.6-0.6-1-0.5-1 0-0.5 0.6-0.5 4-0.7 1.5-0.8 0.9-1 0.6-1 0.2-1-0.2-1-0.5-1-0.9-0.8-1.1-0.8-2.5 0-3 1.4-3.5 0.1-1-0.4-1.3-1-0.9-1-0.1-1 0.4-3.4 3.9-1.5 1-1.1 0.4-1.5 0.3-1.5-0.1-1.4-0.6-1.1-0.8-1-1.7-0.2-2 0.7-1.9 2-3.6 1.1-7.5-0.4-2.5-1.2-2.7-1.5-2.5-2-2.3-9-6.2-5.5-5.3-5.5-4-1.3-1.5-0.3-1 0.4-1 0.7-0.5 1.5-0.4 1.5 0.1 3.5 0.7 10 3 6 2.6 16 9.4 2 0.6 4-0.4 2 0.3 2 1.1 3 3.1 1 0.4 1-0.4 2-2 0.9-2.1 0.1-2.5-1.1-3.5-1.9-4.1-1.5-2.1-1-0.4-0.5 0.1-2 1.6-1 0.1-0.5-0.3-0.5-0.9-0.3-2 0.2-1.5 0.6-1.4 2.2-2.6 1.1-3 2.5-11.5 0.1-2-0.3-5 0.4-2.5 0.5-1.2 0.7-0.8 0.8-0.5 1.5-0.5zM107 151.4l-1 0.5-1 1.1-0.3 1 0.2 1 0.5 1 1.1 0.8 1 0.2 1.5-0.2 1.2-0.8 0.8-1 0.3-1-0.2-1-0.6-0.9-1-0.7-1-0.2-1.5 0.2z"/>
<path fill="rgb(201,245,0)" d="M79 66.5l1 0.2 0.5 0.4 0.8 1.4 0.3 1.5-0.4 3.5 0.2 1 3.1 3.3 1.1 2.2 0.2 1.5 0 2-0.5 2-0.6 1.5-1.9 2.5-4.8 3.5-1.8 2.5-1 0.5-2.2 0.4-3-0.2-3.3-0.7-2.6-1-1.8-1.5-1.1-3-3.6-5.5-0.4-1.5-0.2-1.5 0.3-1.5 0.5-1 0.7-1 1.5-1.3 3-1.4 3.5-0.7 6-0.3 1.5-0.5 0.8-0.8 0.9-3 0.8-1.7 1-1.1 1.5-0.7zM114.4 94l2.1-0.5 2 0.2 2.1 0.8 1.9 1.5 1.1 1.5 0.6 1.5 1.1 5.5 0.9 2.5 2.3 3 2.5 1.7 1 0.3 1.5 0 3.5-1.1 4.5-0.8 2-0.8 3.5-2 1 0.1 1 0.6 4.5 4.5 7.5 5.5 2 2 2 2.6 2 3.4 1.5 3.5 2.4 10.5-0.3 2.5-1.3 3-2.8 4.2-3 5.3-6.1 9-0.4 1 0.3 2.5-0.3 0.5-3 1.6-1.7 1.9-7.6 12.5-5.9 8.5-4.3 9.6-2.3 4.4-1.7 2.1-2 0.9-1 0-1-0.4-0.7-0.6-0.6-1.5-0.9-6-1.7-6-0.6-9.2-0.7-2.3-1.3-2-1.5-1.3-4.5-3.2-5.9-5.5-2.6-1.2-4.5-1-1-1.2-2-3.6-1.5-1.3-1-0.2-1 0.1-2 0.9-0.8 1-1.7 3.5-0.9 1-1.1 0.7-1.5 0.4-1.5 0.1-1.5-0.5-1-0.7-0.9-1.5-0.2-2 0.6-1.6 2.4-3.4 1.2-8-0.6-3-2-4.3-2-3.4-1.5-1.6-8-5-6-5.2-4.5-3-1-1-0.4-1 0.1-0.5 0.8-0.6 1.5-0.2 1.5 0.2 10 2.5 4 1.3 4.5 2.3 16 9.7 2 0.5 4-0.3 2 0.7 2 1.8 2.5 3.9 0.5 0.1 0.5-0.2 2-2 2-2.5 0.9-1.7 0.3-1.5-0.2-2-0.5-1.9-4.7-11.1-0.6-2-0.2-2 0.4-6 1.8-8.5-0.5-6.5 0.1-2 0.7-1.8 1.4-1.2zM109 150.5l-2.5 0.7-1.2 0.8-0.7 1-0.2 1 0.3 1.5 0.8 1 1 0.6 1.5 0.2 1.5-0.4 1.1-0.9 1-1.5 0-1.5-0.6-1.4-1-1-1-0.1zM97.9 170.5l1.6-0.4 1 0.3 0.7 1.1 0.8 2 0.3 2-0.1 1.5-0.7 1.4-1 0.7-1.5 0-1-0.5-1-1-0.7-1.6-0.3-2 0.3-1.5 0.7-1.3 0.9-0.7z"/>
<path fill="rgb(242,245,0)" d="M77.9 67.5l0.6-0.3 1 0 1.1 0.8 0.6 2-0.7 3.5 0.1 1 3.3 3 1.2 2 0.4 1.5 0 1.5-0.9 3.5-1.1 1.9-1.5 1.6-2 1.4-4 2.1-2.5 2-1.5 0.3-1.5 0-3.5-0.8-1.6-1-1.5-2.5-3.1-3.5-1.4-2-0.7-1.5-0.3-1.5 0.1-1.5 0.3-1 0.9-1.5 1.1-1 2.7-1.5 3.5-0.8 6.5-0.4 1.5-0.5 0.6-0.8 0.8-4 0.6-1.1 0.9-0.9zM115 94.5l2-0.3 2 0.3 1.5 0.7 1.6 1.3 1 1.5 0.6 1.5 0.8 5.5 1 2.7 1 1.5 1.5 1.7 1.5 1.2 1.5 0.9 1.5 0.3 1.5-0.2 3.5-1.4 5-1.4 4-2 1 0 1 0.6 3.7 4.1 7.1 5 2.2 2 2.1 2.5 1.9 3 1.6 3.5 1 3.5 0.6 3.5 0.3 5-0.5 3-2.8 4.5-2.7 5.5-6.4 9.5-0.5 1.5 0.2 2-0.1 0.5-0.5 0.5-2.8 1.5-1.8 2-6.6 11.5-6.5 9-3.5 7.9-2 3.6-2 2.8-1 0.8-1 0.4-1-0.1-0.5-0.3-0.6-1.1-1.9-9.6-1.1-3.9-0.9-8.5-1-2.8-1.5-2.3-2.9-2.9-6.6-4.5-2.5-1.5-4.5-1.9-1.5-0.9-1.5-1.7-2-3.7-1.1-0.8-0.9-0.1-1.5 0.3-2.5 1-1.4 0.8-0.7 1-0.7 3.5-0.6 1-1.1 1-1 0.5-1.5 0.2-1.5-0.3-1-0.7-1-1.6 0-1.6 1-1.9 2.2-2.1 0.6-1 0.1-3.5 0.9-4.5-0.6-2.5-3.9-9.5-0.8-1.3-1-1-5.5-2.5-3-1.8-6-5.2-2.5-1.7-1-1 0.1-0.5 0.4-0.1 1.5 0 8.5 1.5 3.5 1.1 4.2 2 5.3 3.8 6.5 3.2 6 4.1 2 0.5 3.5-0.3 1.8 0.7 1 1 0.6 1 0.5 1.5 0.1 1.5-0.7 2-2.3 1.9-0.8 1.1-0.3 1.5 0.2 1.5 0.5 1 1.4 0.9 2 0.4 1.5-0.5 1.6-1.3 1.2-1.5 0.2-1-0.3-3.5 0.5-2 1.1-2 3.2-4.4 0.7-2.1 0-1.5-0.3-1.5-4.6-12-0.8-3-0.4-2.5 0.2-5 1.7-8-0.8-6.5 0.1-2 0.7-1.9 1.5-1.1zM97.9 172.5l0.6-0.2 1 0.2 1 1 0.4 1 0.2 2-0.4 1-0.7 0.5-0.5 0.2-1-0.3-1-0.9-0.4-1-0.2-2 0.5-1 0.5-0.5z"/>
<path fill="rgb(251,220,0)" d="M78.1 68l0.9-0.3 0.5 0.1 0.7 0.7 0.4 1-0.1 2-1.1 2.5 0.1 0.5 0.4 0.5 3.6 2.5 1.3 2 0.4 2.5-0.7 3-1 2-1 1.3-1.5 1.3-2 1.1-3 1.2-3.5 0.8-2 0.1-1.5-0.4-2-1.1-2.5-1.7-3.2-3.1-1-1.5-0.6-1.5-0.1-1.5 0.3-1.5 0.8-1.5 1.1-1 2.7-1.5 3.5-0.7 6.5-0.4 2-0.7 0.5-0.7-0.4-2.5 0.2-1.5 0.7-1.4 0.6-0.6zM116 95l1.5-0.1 1.5 0.3 1.5 0.7 1.2 1.1 0.8 1.3 0.5 1.3 0.8 5.9 0.8 2.5 1 1.5 1.8 2 2.1 1.8 1.5 0.9 1.5 0.4 1.5-0.2 3.9-1.9 5.1-1.7 3-1.3 1-0.1 1 0.5 3 3.6 7.3 5 2.2 2 1.7 2 2 3 1.6 3.5 1.2 3.5 0.6 3.5 0.1 4-0.6 3-2.6 4.4-2.1 4.6-7.5 11.5-0.2 1 0.5 2.5-0.3 0.5-0.8 0.5-3.6 1.1-1 0.9-2.5 6.5-2.6 5-2.9 4.4-4.2 5.1-1 2-2 5-1.8 3.3-2 2.4-1.5 0.8-1-0.4-0.4-0.6-1.1-2.9-0.8-3.6-0.5-6.5-1.2-2.6-1.4-6.9-1.7-3.5-1.1-1.5-1.9-1.5-14.4-8-1.5-1.5-1-2.5 0.1-2 0.4-1 0.5-0.5 2-0.5 3.5 0.2 2-0.3 0.8-0.4 1.4-1.5 1.5-1 0.4-1-0.3-4 0.5-2.5 1-2 3-4 0.9-2 0.1-1.5-0.3-1.5-4.7-12-0.9-3.5-0.4-3 0.3-5 1.6-7-0.2-2-0.9-4.5 0-2 0.2-1 0.6-1 0.9-0.7 1-0.3zM69.7 128.5l1.3-0.3 2 0.1 4.3 1.2 2 1 2.1 1.5 3.2 3.5 1.1 0.5 3.8 1 2.5 1.1 2.5 1.6 5 3.8 1.5 0.3 3-0.3 1.2 0.5 0.9 1.5 0 2-0.6 1.1-2.3 2.4-1.3 3.5-1.4 2.1-1.1 0.9-3.4 1.2-4.5 2.2-2 0.4-1-0.2-0.5-0.4-0.7-1.2-0.2-1.5 0.9-3.5 0-1.5-3.3-8.5-1-6-0.4-1-0.8-0.7-5.5-1.4-4-1.9-2-1.5-1.4-1.5-0.4-1 0-0.5 0.5-0.5zM85.1 163.5l1.4-0.4 1 0.1 1 0.9 0.5 1.3 0 1.6-0.4 1-1 1-1.1 0.5-1.5 0.1-1-0.4-0.9-0.7-0.5-1-0.1-1 0.5-1.3 1-1.1 1.1-0.6zM98.4 175l0.1-0.2 0.5-0.1 0.5 0.8-0.1 0.5-0.4 0.2-0.5-0.2-0.1-1z"/>
<path fill="rgb(253,189,0)" d="M78 69l1-0.5 0.5 0.2 0.6 1.3-0.1 1-0.5 0.9-1 0.6-0.9-0.5-0.3-1 0.1-1 0.6-1zM75.9 76l2.6-0.4 2.5 0.7 2 1.2 1.4 2 0.4 2.5-0.6 2.5-1.3 2.5-2 2-2.4 1.3-2.5 0.8-2.5 0.3-2.5-0.1-2.5-0.7-2.5-1.2-2-1.4-1.9-2-1.1-2-0.3-2 0.7-2 1.6-1.7 2-1.1 2.5-0.7 8.4-0.5zM115.7 96l1.8-0.2 1.4 0.2 1.1 0.5 1.1 1 0.7 1 0.6 1.5 0.5 6 0.8 2.5 1.1 1.5 1.8 2 3.9 3.1 2 0.7 1.5-0.1 5.3-2.7 5.7-2.1 1.5-0.1 1 0.7 1.6 2 1.4 1.3 7 4.3 3 2.9 2.8 4 2 4.5 1.2 5 0.2 4-0.4 2-0.5 1.5-3.8 6.8-3 3.9-3.2 5.8-2.8 4-0.4 1 0.7 2-0.4 0.5-3.4 0.8-1.3 1.2-2.1 7-2.3 5-3.1 4.5-4.7 5.1-0.7 1.4-1.7 5-1.1 2-1.5 1.8-1.5 0.6-1-0.4-0.5-0.6-0.8-1.9-0.5-3 0.2-5.5-0.3-2-0.6-1.5-1.5-2.5-1.5-5-1.5-3-2.2-2-7.3-3.7-6.8-4.3-1.5-1.5-0.5-1.5 0.4-1.5 1.4-1 8.9-1.5 1.7-0.5 0.4-0.5-1.7-5.5 0-3 0.4-1.5 0.7-1.5 3.6-4.5 0.8-2 0-1.5-0.6-2-3.1-7.5-1.4-4-0.8-3-0.5-3 0-2.5 0.2-2.5 1.6-5.5 0.2-1.5-0.2-2-1.1-4.5-0.1-2 0.5-1.6 1.2-0.9zM72.4 130l1.1-0.4 1 0.1 2.7 0.8 2.2 1.5 0.6 1-0.1 0.5-0.9 0.5-1 0-3-1-2.2-1.5-0.5-1 0.1-0.5zM87.6 138l1.4 0 2 0.5 3.5 2 2.3 2 3.4 3.5 0.7 1 0.4 1-0.1 1.5-0.5 2-0.8 2-0.9 1.3-1.5 1.1-3.5 1.2-3 1.7-1-0.1-0.7-0.7 0-1 0.7-2-0.1-1-3.2-6.5-1.2-4-0.1-2 0.4-2 0.7-1 1.1-0.5zM85.5 164.5l1 0 0.8 0.5 0.5 0.5 0.3 1-0.2 1-0.4 0.6-1 0.7-1 0.2-1.5-0.6-0.5-0.6-0.2-0.8 0.5-1.5 0.7-0.6 1-0.4z"/>
<path fill="rgb(255,157,0)" d="M77.8 76.5l2.2 0 2 0.7 1.5 1.3 0.9 2-0.2 2.5-1 2.5-1.7 2.3-2 1.5-2 0.8-2.5 0.5-2 0-2.5-0.3-2.5-0.9-2.5-1.4-1.8-1.5-1.1-1.5-0.7-2 0.3-2 0.9-1.5 1.9-1.4 2-0.8 2-0.4 6.5-0.1 2.3-0.3zM116.5 97l1.5-0.1 1 0.2 1 0.5 0.8 0.9 0.7 1.4 0.2 1.1 0 5.5 0.6 2 1.6 2 2 2 3.1 2.7 2 1.4 1.5 0.6 1.5 0 1.5-0.6 4.5-2.6 2.5-0.8 1.5-0.1 3 1 2.9 1.9 4.6 2.4 2.5 1.6 3 2.9 2.5 3.6 2 4.5 1.1 4.5 0.2 3-0.4 2.5-0.7 2-2.2 3.9-1.5 2.3-3 3.3-2.7 5.5-1.8 3-6 6.6-0.7 1.9-1.5 6.5-2.1 4.5-3.2 4.7-5.3 4.8-0.8 1.5-1 3.5-0.9 2-1 1.2-1 0.5-0.5-0.1-0.8-0.6-0.7-1.8-0.1-2.2 0.5-4-0.3-2-1.8-4.5-1-3.5-2.4-4-1.2-1.5-1.4-1-6.8-3.2-3.7-2.3-3-2.5-0.7-1-0.3-1 0.2-0.8 0.5-0.6 2-0.9 4-1 5.5-0.6 0.5-0.1 0.6-0.5-0.4-1-1.9-2-1-1.5-0.6-1.5-0.3-2 0.2-2 0.6-1.5 1.3-2 3.1-3.5 0.6-1 0.2-1.5-0.7-3-2.9-6.5-1.6-4-0.9-3.5-0.5-3-0.1-3 0.3-2.5 2.3-6.5-0.1-1.5-1.7-5.2-0.1-1.8 0.6-1.5 1-0.5zM87.9 139.5l1.1-0.4 1 0.1 1.5 0.4 1.5 0.7 2.8 2.2 2.4 3 1.2 2.5 0.2 2-0.9 2.5-1.3 1.5-1.9 0.7-1.5-0.1-1-0.3-2-1.6-2-2.6-1.7-3.1-0.8-3-0.1-1.5 0.3-1.5 0.6-1 0.6-0.5zM84.9 166l0.6-0.2 1 0.4 0.3 0.8-0.3 0.6-1 0.4-0.9-0.5-0.1-1 0.4-0.5z"/>
<path fill="rgb(255,120,0)" d="M79.2 77l2.3 0.4 1.5 1 0.9 1.6 0.2 1.5-0.6 2.4-1.2 2.1-1.3 1.6-2 1.3-2 0.7-2 0.3-2.5 0-2-0.4-2.5-0.9-1.8-1.1-1.7-1.5-1-1.5-0.4-2 0.3-1.5 1.2-1.5 1.5-1 1.9-0.7 2-0.3 6-0.1 3.2-0.4zM117.4 99l1.1-0.2 0.8 0.2 0.7 0.7 0.3 0.8 0.2 1.5-0.4 1.5-0.6 1.1-0.5 0.2-1-0.7-1.3-2.6-0.1-1.5 0.8-1zM118.4 109.5l1.1-0.5 1 0.3 9.5 7.8 1.5 1 1.5 0.7 1 0.1 1-0.1 5-3 1.5-0.2 0.7 0.4 0.3 1.5-0.3 2-2.7 7.2-1.5 4.7-1 4.1-0.2 1.5 0.2 1 1-1.2 1.5-3.3 4.7-14 1.3-2 1.5-0.8 1.5 0.3 5.5 2.3 2.5 1.6 2 1.7 2 2.4 1.8 3 1.4 3.5 0.9 3.5 0.3 2.5-0.1 2-0.4 1.5-0.8 2-2.6 4.5-3 2.8-1 1.2-3.2 7-2.3 3.3-2 1.6-2 0.5-2.5-0.1-5-0.9-1.7 0.1 5.7 2.3 1.6 1.2 0.2 1.5-0.8 6.5-1.7 4.5-1.7 3-1.6 2.1-3 2.7-5 2.8-0.5 0-0.5-0.4-2.8-4.2-1-2.5-0.4-2.5 0.4-5.5 1.1-6.5 1-4 1.6-3-0.5-2.5-0.4-3.4-0.5 0.5-2.5 4.4 0.4 4.5-0.5 4.5-1.2 4.5-0.7 1.3-0.5 0.3-0.5-0.1-3-2.2-6-2.5-3-1.7-2.6-2.1-1.3-2 0-1 0.3-0.5 1.1-0.9 1.2-0.6 3.3-0.7 6.5-0.4 1.4-0.4 0.3-0.5-0.7-1-3-2.1-1.4-1.4-1.1-2-0.4-2 0.2-2 0.7-1.6 1.4-1.9 3.6-3.5 0.5-1 0.1-1-0.2-1.5-0.5-1.5-2.9-6-1.7-4-1-3.5-0.6-3-0.2-3.5 0.5-3 1-2.2 1.9-2.3zM131.5 141.4l-0.4 0.6 0.1 0.5 1 1.5 1.8 1 1 0.1 0.5-0.2 0.2-0.9-0.7-1.4-2.5-1.1-1-0.1zM88.8 140.5l1.7-0.3 2.5 1 2.3 1.8 1.9 2.5 1.1 2.5 0.1 2-0.6 1.5-1.3 1.3-1.5 0.4-2-0.5-2-1.5-2-2.6-1.2-2.6-0.4-2.5 0.5-2 0.9-1z"/>
<path fill="rgb(255,83,0)" d="M79.9 77.5l1.6 0.3 1.1 0.7 1 1.5 0.1 1.5-0.7 2.3-1.4 2.2-1.4 1.5-1.7 1-1.5 0.5-2 0.3-2 0-2-0.4-2-0.7-2-1.2-1.2-1-1.1-1.5-0.4-1.5 0.3-1.5 1.1-1.5 1.5-1 3.3-0.8 5.5-0.1 3.9-0.6zM119.5 111.5l1.5 0.1 2 1 2.5 1.9 6 5.1 2.5 1.5 1 0.2 1-0.3 2.1-2 1.4-0.8 1 0.1 0.3 0.7-0.3 2.2-2.3 6.8-3.2 11.7-0.5 0.7-0.5 0.2-2-0.5-2 0.1-0.9 0.3 0.3 1 1.6 3 0.3 2.5-3.1 9.5-1.2 1.6-1 0.3-1.5-0.2-2.5-0.9-3-1.6-1.6-1.7-1-2.5 0-2 0.8-2 1.8-2 3.7-3 0.6-1 0.3-1-0.1-1-0.4-1.5-3.3-6-1.8-4-1.2-3.5-0.7-3.5-0.2-3.5 0.6-2.9 1.3-2.1 0.7-0.6 1-0.4zM147.1 118.5l2.4 0.3 4 1.5 2.5 1.5 2.5 2.3 2.2 2.9 1.8 3.8 1.1 3.7 0.3 3.5-0.5 3-1.4 3.1-2 2.8-3 2.2-1.3 1.4-1 2-1.7 5-1.3 2.5-1.3 1.5-1.4 1-1.5 0.4-1.5 0.1-5-0.8-8.5-1.9-1.2-1.3-0.3-2.5 0.4-4.5 0.6-4.5 0.3-0.5 0.7-0.5 3-0.3 0.7-0.2 0.4-0.5-0.4-2.5 0.1-1.5 2.9-6.5 4.8-13.7 1.1-1.8 0.9-0.8 0.6-0.2zM89.8 141.5l1.7-0.1 1.5 0.7 1.5 1.1 1.5 1.8 1 2 0.4 2-0.4 1.5-1 1-1.5 0.3-1.5-0.4-2-1.6-1.4-1.8-0.9-2-0.3-2 0.3-1.5 1.1-1zM113.6 161.5l2.9-0.3 8 0.2 1 0.2 0.5 0.4 0.5 0.9 0.2 1.1-0.2 3-0.8 4-0.7 1.5-0.5 0.5-1 0-8-3.2-2.5-1.3-1.9-1.5-0.9-1-0.5-1 0.2-1.5 1.1-1 2.6-1zM132 162.5l1.5 0.2 3.5 1.1 5.8 2.2 1.2 1 0.5 2 0 3.5-0.4 2.5-1 3-1.6 3-1.8 2.5-1.7 1.7-2.5 1.4-2 0.5-1-0.1-1-0.4-2-1.8-1.3-2.3-0.6-3 0.2-5 1.5-8 1.2-3.2 0.5-0.5 1-0.3z"/>
<path fill="rgb(252,52,0)" d="M77.8 78.5l2.2-0.5 1.5 0.3 1 0.6 0.4 0.6 0.4 1.5-0.3 1.5-1.5 2.6-1.5 1.8-1.5 1-1.5 0.5-2 0.3-3.5-0.4-2-0.8-1.5-0.9-1.2-1.1-0.7-1-0.4-1.5 0.1-1 0.7-1.1 1.5-1.2 3-0.8 5-0.1 1.8-0.3zM119.2 113.5l1.3-0.3 1 0.1 1.5 0.7 2 1.3 2.7 2.2 5.1 5 2.2 2.8 0.5 0.5 1 0.3 0.4 0.4 0 2-0.9 4.6-1 3.6-1 1.9-3.5 0.6-4.5-1-1-0.6-1.5-1.5-2.5-3.6-1.5-3-1.4-3.5-0.8-3-0.4-2.5 0-2.5 0.4-2 0.7-1.5 1.2-1zM146.4 120.5l1.1-0.4 1 0 3.5 0.9 3 1.4 2.5 2.1 2.3 3 1.7 3.3 1.1 3.7 0.3 3.5-0.6 3-1.8 3.5-1.5 1.5-3.9 2.5-1.7 2-0.8 2-0.8 4.5-1.3 2.6-1.3 1.4-1.2 0.8-1.5 0.4-1.5 0-5.5-0.9-6.5-1.7-1.1-1.1-0.3-2 0.7-5 1-3 0.7-0.7 1-0.5 2.5-0.3 1-0.5 0-1-0.9-2.5 0.3-1.5 2.2-5.5 3.9-11.6 1-2.2 1.4-1.7zM125.6 141.5l0.4-0.4 0.5 0 2 1.2 1.4 1.7 0.3 1.5-0.5 4-1.3 4.5-0.9 2.1-0.5 0.6-1 0.4-4-0.8-2.6-1.3-0.9-0.8-0.8-1.2-0.5-1-0.2-1.5 0.5-2 1-1.5 1.5-1.3 3.8-2.2 1.8-2zM90.1 143l0.9-0.4 1.5 0.3 1.5 1 1 1.1 0.8 1.5 0.4 1.5-0.2 1.5-0.5 0.6-1 0.3-1-0.1-1.4-0.8-1.1-1.1-0.9-1.4-0.5-1.5 0-1.5 0.5-1zM114.6 162l2.4-0.2 3.2 0.2 4 0.5 1.3 0.6 0.6 1.4-0.1 2.5-0.5 2.5-1 1.9-0.5 0.3-1-0.1-5.5-1.7-3.3-1.4-2-1.5-1.1-1.5 0-1.5 1.4-1.3 2.1-0.7zM131.1 164l0.9-0.4 1.5 0.1 4.5 1.3 2.6 1 1.9 1.5 0.9 3 0.3 2.5-0.3 2-0.8 2.5-1.1 2.3-1.5 2.3-1.5 1.7-1.5 1.1-2 0.7-2 0-2-1.1-1.7-2-0.9-2.5-0.2-3.5 0.8-6 1-4.4 1.1-2.1z"/>
<path fill="rgb(250,21,0)" d="M78.7 79l1.3-0.4 1.5 0.2 1 0.9 0.3 1.3-0.4 1.5-2.1 3-0.9 1-1.4 0.9-1.5 0.5-1.5 0.2-3-0.5-2.5-1.2-1.1-0.9-0.8-1-0.3-1 0-1 0.5-1 1.2-1 2.5-0.8 5-0.1 2.2-0.6zM120.2 115l0.8-0.1 1.5 0.2 1.5 0.8 2 1.4 4.2 4.2 2 2.5 0.8 1.5 0.9 3 0.4 4-1 3-1.1 2-0.7 0.6-1 0.3-1-0.2-2.5-1-1.9-1.2-2.3-2.5-2.3-3.8-2-5.2-0.7-4.5 0.2-2 0.5-1.5 0.8-1 0.9-0.5zM147.3 122l2.2-0.1 3 0.7 2.5 1.3 2.5 2.2 2 2.9 1.3 3 0.9 3.5 0 3-0.9 3-0.8 1.5-1 1.1-1.5 1-4.9 2.4-1.5 1-0.9 1-0.3 1.5 0.4 3.5-0.1 2-0.4 1.5-0.9 1.5-1.1 1-1.3 0.7-1.5 0.2-2-0.1-4.5-0.8-5-1.5-0.6-0.5-0.6-1 0-3 0.9-3.5 0.7-1.5 0.8-1 1.3-0.6 3.5 0.2 1.1-0.6 0.1-1-1.5-3-0.1-1 1.2-3 2.2-8.5 1.5-4.6 1.5-3 1-1.1 0.8-0.3zM127 144l1-0.1 0.5 0.3 0.5 0.6 0.3 1.2-0.5 4.5-1.4 4-0.9 1-1 0.2-3-0.3-2.5-1.1-1.4-1.3-0.7-1.5 0-1.5 0.6-1.7 1-1.2 1.5-1 6-2.1zM91.5 144.5l1-0.1 1.5 1.2 0.5 0.9 0.2 1-0.4 1-0.8 0.1-0.5-0.2-1.1-0.9-0.7-1.5 0-1 0.3-0.5zM116 162.5l2.5 0 2.5 0.3 3 0.7 0.9 0.5 0.5 1 0.1 1.5-0.3 2-0.7 1.4-0.5 0.4-1 0.2-4-0.8-3.4-1.2-2.3-1.5-1-1.5 0-1 0.2-0.5 1.4-1 2.1-0.5zM132 165l1.5-0.1 2.9 0.6 1.6 0.5 1.8 1 1.7 2 1.1 3 0.2 1.5-0.2 2-0.6 1.8-1 2.1-2.5 3.3-1.5 1.2-1.5 0.5-2-0.1-2-1.2-1.5-1.7-1-2.6-0.1-3.3 0.6-5 1-3.6 0.5-1 1-0.9z"/>
<path fill="rgb(246,15,0)" d="M79.7 79.5l0.8-0.2 1 0.2 0.6 1-0.1 1-1.7 2-1.2 2-1.6 1.3-2 0.5-2.5-0.3-2.2-1-1.4-1.5-0.3-1 0.1-1 0.8-1 0.8-0.5 2.7-0.6 4 0.2 1-0.3 1.2-0.8zM120.4 117l1.1-0.4 1 0.1 1.5 0.6 1.5 1 3.2 3.2 2.8 4 1 2.5 0.3 3.5-0.7 3.5-1.1 2.1-1 0.2-1-0.2-3.4-2.1-2.1-2.2-2-3.3-1.7-4-0.8-4 0-1.5 0.4-1.5 1-1.5zM147.8 124l1.7-0.3 1.5 0.1 1.5 0.4 1.6 0.8 1.4 1 1.5 1.5 2.2 3.5 1.1 4 0.1 2-0.2 2-0.7 1.8-0.8 1.2-1 1-1.2 0.6-2 0.7-2.5 0.4-1.5 0-1.5-0.4-1.4-0.8-1.1-1-1.1-1.5-1.2-2-0.7-2-0.4-2 0.5-4 0.9-3.1 1-2 1-1.2 1.3-0.7zM121.6 147l1.4-0.3 2 0 2 0.3 0.7 0.5 0.3 1-0.1 2-0.4 1.5-1 1.5-1.5 0.6-2.5 0.1-2-0.7-1.1-1-0.6-1.5 0.2-1.7 1-1.4 1.6-0.9zM135.5 149l1.5-0.3 3.5 0.7 3.5 0.4 2 1.1 1.5 1.9 0.8 2.2 0 2-1.1 2-1.2 1-1 0.3-2.5 0.2-5.1-1-3.5-1.5-0.5-0.5-0.4-1 0.1-2.5 0.9-3 1.5-2zM115 163.5l2-0.3 2 0 2.5 0.6 2 0.7 1 1 0.2 1-0.2 1.5-0.5 0.8-0.5 0.3-1.5 0.2-3-0.3-2.8-1-1.7-1.1-1-1.4 0.2-1 1.3-1zM131.9 167.5l1.1-0.3 2-0.1 1.5 0.3 1.5 0.6 1.4 1 0.9 1 1.3 2.5 0.2 1.5-0.1 1.5-1.2 3.2-2 2.8-1.2 1-1.3 0.5-2-0.1-1.6-0.9-1.4-1.5-1.1-2.5-0.3-2.5 0.4-3.7 1-3.3 0.9-1z"/>
<path fill="rgb(242,10,0)" d="M72.2 82l1.3-0.4 1-0.1 2.1 0.5 0.8 0.5 0.6 0.8 0.2 0.7-0.3 1-0.9 0.8-1 0.4-1.5 0.1-1.5-0.5-1.2-0.8-0.6-1 0.1-1 0.9-1zM121.8 119l0.7-0.2 1 0.2 2.5 1.5 2.5 2.8 1.9 3.2 0.9 2.5 0.3 2.5-0.6 2.9-0.5 0.9-0.5 0.4-1.5-0.3-2.5-1.7-1.9-2.2-1.6-2.6-1.4-3.4-0.6-3 0.4-2.5 0.9-1zM149.9 126l1.1 0 1.5 0.3 2.2 1.2 1.9 2 1.5 3 0.7 3-0.3 2.7-1 2-1 1-1 0.5-1.5 0.3-1.5 0-2.5-0.8-2.1-1.7-1.7-3-0.7-3.5 0.1-2 0.4-1.5 0.5-1.1 1-1.3 1-0.7 1.4-0.4zM121.5 148.5l1-0.2 1 0.1 1.5 1.1 0.3 0.5-0.1 1-0.7 1-1 0.6-1 0.1-1-0.2-1-0.7-0.4-0.8 0-1 0.4-0.8 1-0.7zM136 150l1-0.2 1.5 0.3 4 1.3 2 1.2 1.2 1.4 0.6 1.5-0.2 1.5-0.6 1-1.5 1-2.5 0.3-3.8-0.8-2.7-1.4-0.5-0.6-0.5-1 0-1.7 0.8-2.3 1.2-1.5zM115.6 164.5l1.9-0.5 3 0.5 1.9 1 0.6 0.8 0.1 0.7-0.6 0.7-1.5 0.4-2 0-1.5-0.4-1.3-0.7-1-1-0.1-1 0.5-0.5zM133.2 170l2.3-0.5 2 0.5 1.9 1.5 1.1 2 0 2-0.6 2-1.4 2.2-1 1-1 0.5-1.5 0.1-1.6-0.8-1.4-1.5-0.9-2-0.3-2 0.4-2.5 0.8-1.6 1.2-0.9z"/>
<path fill="rgb(238,5,0)" d="M123.2 122.5l0.8-0.4 1.5 0.7 1.5 1.5 1 1.6 1 2.1 0.3 1.5 0 1.5-0.6 1-0.7 0.1-1-0.4-1.5-1.4-1-1.3-1.5-3.5-0.2-2 0.4-1zM150.4 129.5l1.1-0.2 1.5 0.3 1.5 1.2 1.1 1.7 0.5 1.5 0 2-0.5 1.5-1.1 1-1.5 0.2-1.5-0.5-1.4-1.2-0.9-1.5-0.6-2 0.1-1.5 0.6-1.5 1.1-1zM136.6 152l0.9-0.3 1 0.1 3 1.2 1.2 1 0.6 1 0 1-0.3 0.5-1 0.6-1.5 0.2-1.5-0.4-1.9-0.9-0.9-1-0.4-1 0.2-1.2 0.6-0.8zM134.5 172.5l1-0.4 1.5 0.3 0.9 0.6 0.6 0.9 0.2 1.1-0.2 1.2-0.5 0.9-1 0.9-1 0.3-1-0.2-1-0.7-0.6-0.9-0.3-1 0-1 0.4-1.1 1-0.9z"/>
<path fill="rgb(0,159,251)" d="M33.2 120l0.8-0.3 0.7 0.3 0.2 1-0.4 0.6-0.5 0.2-0.7-0.3-0.3-0.5 0.2-1zM107.1 153.5l0.9-0.3 0.7 0.3 0.4 0.5 0 0.5-0.3 0.5-0.8 0.3-1-0.3-0.3-1 0.4-0.5z"/>
<path fill="rgb(0,81,255)" d="M107.2 154l0.8-0.4 0.7 0.4 0 0.5-0.7 0.5-0.5-0.1-0.4-0.4 0.1-0.5z"/>
<path fill="rgb(40,26,255)" d="M107.8 154.5l0.2-0.4 0.1 0.4-0.3 0z"/>
<path fill="none" stroke="#000" stroke-opacity="0.82" stroke-width="0.42" stroke-linejoin="round" d="M84 101l-1.8 0.5M86.5 93.1l-1 0.5-0.8 0.9-0.4 2.5-0.8 1.3-1 0.6-3 0.7-1 0.9M88.5 82.1l-1 0.5-0.6 0.9 0 1 0.6 2.4M87.5 88.1l-0.5 1-1 0.6-4 0.3-1.5 0.7-0.9 1.8 0.1 3.5-2.3 2-1.2 2.5M88.5 79.7l-1.5 0.2-1 0.5-0.9 1.1-1.6 3.2-3 1.4-2 1.9-1.7 3.5-1.9 3-0.5 5M89.5 77.1l-2.5 0.5-2 1-2.5 2.9-2.5 2-2.8 3-2 4-2.5 3-0.4 1.5 0 3-0.6 1.5M90.5 69.3l-1.5-1.1-1.5-0.5-1.5 0.4-1.2 0.9-0.5 1.5 0.4 1 1.6 2 0 1-0.8 1-3.5 2.4-4 5.2-2.9 2.9-1.6 3.9-3.5 2.6-0.3 1 0.2 3-0.6 2M90.5 64.3l-3.1 0.2-3.9 1.2-3 0.5-2 0.8-1.2 1-0.5 1-0.1 1 0.3 0.7 1.5 1.6 0.1 1.2-0.6 0.6-1 0.3-1.5-0.6-1 0-1 0.9-0.5 1.3 0.5 0.8 2 0.6 0.7 0.6 0.7 1.5-0.1 1.5-1.3 1.4-3.5 1.1-1 0.8-0.2 0.7 0.3 2-0.1 1-3.6 2.5-1.2 1.5-0.6 1.5-0.5 2.5 0.8 2.5M91.5 61.9l-8.5 0.2-5.5 2.7-2.5 2.2-2.5 3.7-3 3.2-0.9 1.6-2.2 11.5-3.4 5.9-0.7 2.6 0.2 2M91.5 59.9l-8.5-0.6-4.5 1.4-2.4 0.3-3.8 4-1.7 2.5-2.1 2.5-2.1 5.5-2.2 9.5-1.6 3-2.3 2.5-0.5 1-0.1 1.5 0.7 4.5M91.5 57.6l-4.5 0-4-1-3.5 0.7-4-0.4-1.5 0.4-0.9 0.7-1.6 2.5-2.3 2-2.2 3.4-1.6 1.6-0.1 1 0.6 2.5-0.2 1-1.9 3.5-0.3 2-1.1 3-0.4 3.5-0.7 2-0.9 1.5-2.7 2.5-0.8 1.5-0.5 3 0.5 2M91.8 53.8l-1.8 0.7-1.5 0.2-3-1.5-5.5-1-1 0.1-3 2-3.5 1.6-2.9 3.6-2.6 2.5-1.5 1-2.5 1-1 0.7-0.6 0.8-0.5 1.5 0.4 3.5-1.2 3.5 0.4 3.5-1.4 4 0.1 3.5-0.7 1.5-3 2.5-1.6 2.5-0.3 1.5 0.2 3.5M76.1 49l-0.6 0.5-1 2.5-4 3-3.5 4.5-2 1.4-4 2.1-1.5 1.5-0.9 1.5-0.3 1.5 0.3 3-0.6 3-0.1 3.5-1.5 3.5-0.6 3.5-0.8 1-3 2.9-2.2 1.6-0.6 1 0.1 1.5 1.7 2.4 0.4 1.1M65.8 47.8l0.3 1.2 2.4 3-0.1 1.5-2.4 3.5-2.8 2.5-4 3-2.7 3.2-0.4 1.8 0.6 2.5 0 1.5-0.8 4-2 4-1.2 3.5-4.2 4.4-1.3 2.6-0.2 1.5 0.2 1.5 1.4 2.5M61.7 47l0.7 3 2.6 2.3 0.3 0.7-0.1 1-3.7 4.5-5 4.5-1.5 2.3-0.6 2.2 0.6 3.5-0.3 2.5-0.7 1.6-1.9 2.9-3.5 4.5-2.1 3.8-1.2 5.7 0 2.5M58.3 46l1.2 3 0.2 3.5 0.7 2.5-0.2 1-1.2 2-3.5 3.5-2.1 4-0.9 2.5-0.2 5-1.6 4-1.2 1.5-3.4 3-1.6 2.6-0.6 1.9-0.1 4-0.7 4.5M55.9 46l0.6 2.5 0.1 1.5-2 4-0.5 3.5-1.7 6-1.6 4-0.5 4-1 4-1.2 2-4.1 3.3-1.9 3.2-0.6 2.5 0.1 3.5-0.6 4.5M49.8 45l1.2 5-0.2 2-1 4 0.4 5.5-0.2 2.5-1.1 3.5-0.8 4-1.5 3.5-1.1 1.5-3.5 2.8-2.3 4.2-0.5 2 0.2 5-0.5 3M47.8 44l0.8 6-1.2 5 0.5 6.5-0.2 2.5-0.7 2.3-1.4 2.7-1.1 3.2-1 1.3-3.5 3.3-2.9 5.7-0.4 2 0.3 6-0.3 3M45.8 44l0.1 1.5 0.9 3 0.1 1.5-0.4 1.4-1.9 3.1 0.1 4.5-0.7 1.2-2 0.9-0.9 0.9-0.3 1.5 0.4 4-0.6 3-2.9 4.5-1.4 3-2.3 2.5-0.4 1-0.1 3 0.7 6.2M43.3 44l0 1.5 1 3 0.1 1.5-2.2 4-1 3-2.2 2.5-0.6 1-0.3 2 0.6 3.5-0.2 2-1 1.8-2.5 2.2-1 1.4-3.1 6.1-0.1 3 1.3 5.6M40.7 43l-0.4 1.5 0.7 5-0.5 2.5-2.2 4-4.2 4.5-1.8 6-0.2 1.5 0.2 3.5-2.2 5-1 3.5 0.1 3 0.6 3M36.8 42.8l-0.3 1.7 1 3.5-0.1 2-1 2.5-3.4 4.8-1.2 2.7-0.7 3.5-1.2 4 0.6 3.5-0.1 1-1.9 4-0.9 3.5-0.2 2.5 0.2 2.6M33.7 42l-0.1 7.5-0.6 1.5-1.2 1.5-0.5 1-0.4 3-1.1 3.5-0.4 3-1.3 4 0.5 5-2 4-1.1 3.5-0.6 4.4M26.2 70l-0.2 2.1M24 85.5l2.5-0.2 2.7 0.9M29.9 86.5l0.2 0.1M23 88.2l2-1.2 2-0.1 2.5 0.7 3.5 2.1M23.7 89.7l2.3-1.2 2 0.1 1.5 0.6 3 2.1 2 0.7M24.8 90.8l1.7-0.6 1.5 0.1 3.5 2.2M28 92.2l0.7 0.3M63.8 123l1.7 0.9 3 0.6M70 125l1.5 0.5M49.8 118l0.7 0.3M52.4 119l1.1 0.2M58.3 121l4.2 3.6 8.5 3.4 2 0.5 4.5-0.2 4.5 1.9 1.6 0.4M20.1 110l1.9 0.6 6.9 1.3M29.2 112l2.3 0.5M33.3 113l2.4 0.7M37.2 114l1.3 0.4M40 115l1.7 0.7M42.5 116l4.8 3 3.7 1.4 5 1.2 2 1.2 4 3.2 9 3.9 2.5 0.5 4-0.6 4 1.7 4 0.7M19 111.1l3 0.8 7 1.3 8.5 2.9 4.5 1.9 3.4 2.5 3.1 0.8 3 1.3 3 0.4 1.3 0.5 5.2 3.5 10 4.4 2.5 0.4 4-0.3 4 1.5 4.6 0.6M19 112.7l4 0.9 4 0.3 2.3 0.6 6.2 2.6 4.4 2.4 3.6 2.8 4 0.8 3.5 1.9 4.5 0.6 9 4.6 6.5 2.5 2 0.4 4.5 0.3 4 1 4 0.5 2.2 0.8M19 114.7l3 0.6 4-0.3 2 0.3 7 3.2 1.9 1.5 2.8 3 2.3 1.3 4.5 0.8 3.5 1.6 5.5 1.1 5 1.7 3.5 1.9 7.5 2.6 13 2.3 4.5 1.6M18 119l2-0.1 5-2.4 2.5 0 6.7 3.5 1.6 1.5 2.2 2.9 2 1.1 3 0.9 3.5 0.6 4 1.5 8.5 1.7 4.5 2.3 3.8 1 4.2 1.7 12 2.5 4 2.1 2 0.6M18 121.7l3-0.5 4-2.6 2-0.2 3.7 2.1 5.8 5.5 1 0.5 8.5 2 5.5 1.7 7 1.1 4 2.1 4.5 1.2 6 2.6 2 0.5 4 0.3 3 0.9 1.5 0.8 2.5 2 2.5 0.9M18 123.4l4-0.1 3.5-0.7 1 0.1 3.2 2.3 2.8 1.1 3.5 2.1 4.5 0.3 11 2.9 6.5 0.9 4 2.2 5 1.5 5.5 2.9 2 0.4 4 0.1 2 0.5 4.2 3.1 2.8 1.3M17 125.3l2-0.2 3 0.5 3.5-0.2 6 2.1 3 1.8 1.5 0.6 5 0 5.5 1.7 11 1.7 4.5 2.6 4.4 1.6 4.1 2.9 2 0.5 6.5 0.3 1.5 0.6 6 3.7M17 127.1l2 0 3 0.7 3.5-0.1 5 1.1 1.5 0.6 3 1.7 1.5 0.5 5 0 4.5 1.4 3.5 0.2 7 1 1.5 0.6 3.5 2.4 3.5 1.6 2.5 2.7 1.5 1 2.5 0.4 4-0.4 2.5 0.2 4.5 1.7 3.3 2.3M17 128.7l4.5 0.7 3.5 0.2 5.5 0.7 1.5 0.6 3 2.1 1.5 0.4 5-0.2 4.5 1.2 4 0 6 0.9 2 0.9 4.9 3.8 1.9 3 1.3 1 5.4 1.6 4.5-1.2 5 0.8 2 0.8 1.9 2.1M17 130.2l13.5 1.6 1.4 0.7 2.6 2.3 1.5 0.6 6-0.6 4 0.9 4.5-0.1 5 0.9 2 0.9 1.8 1.6 1.6 2 2.1 3.3 1 1.1 4 2 2.5 2.1 1 0.2 1-0.3 3.5-2.4 3.5-0.3 1.5 0.1 1 0.4 0.9 0.8 0.7 1.4M16.9 131.6l6.1 0.4 4 0.9 3 0.3 1 0.5 3 2.6 2 0.8 2 0.1 4-0.5 4.5 0.4 3.5-0.3 4.5 0.7 2 0.9 1.3 1.1 4.7 6.4 2.8 2.6 1.7 2.2 1 0.7 1.5 0.4 2 0.1 4.5-1.3 4-0.3 1 0.3 1.5 1.4M16 132.9l6.5 0.3 4 1.3 3 0.3 1 0.4 3.5 2.5 2.5 0.9 9-0.1 4.5-0.5 3.5 0.7 2 1 1.6 1.3 8.9 11.5 2 0.8 6 0.6 2.1 0.6M16 134.3l6.3 0.2 4.2 1.9 4 0.7 3.5 2.1 2 0.7 8.5 0 5-0.6 2 0.3 3.5 2 3 2.9 1.5 1.8 2.3 3.7 3.2 3.7 1.5 0.8 6 1.5M16 135.8l5.5 0.1 4 2.1 5 1.1 3.5 1.8 1.5 0.4 9 0 4.5-0.7 2 0.3 1.5 1.1 5 4.9 2 3.8 4.5 4 1.5 0.9 4.7 1.2M16 137.6l4.5 0.2 4 2.1 10.5 3.1 9-0.1 4.5-0.8 1.5 0.1 1 0.6 1 1 3.6 4.7 1.3 2.5 0.8 1 3.3 1.9 3.4 2.6 4.1 1M15 139.4l2 1 3 0.5 2 1.9 1 0.4 3.5-0.3 6 1.7 4.5 0.5 6 0.1 5-0.7 1 0.1 4.1 4.4 1.9 3.4 1 1 4.5 1.8 3.5 2.5 3.2 0.6M15 142.4l3 3.4 1.1 0.7 1.4 0.4 2 0.1 4.5-1 2.5 0 9 1.7 6.5 2.1 4-0.2 1.5 0.3 1.3 1.1 1.8 3 1.4 1.3 4.5 1.1 4 2.3 2.2 0.6M14.1 145l2.4 2.6 2.5 1.2 3.5 0.4 6.5-0.9 3.2 0.2 6.3 1.8 3.5 1.6 4.5 1.4 8 4.4 4.5 0.3 4.9 2.1M14 148.1l2.3 1.4 4.2 1.1 2.5 0.1 5.5-0.4 2.5 0.2 3.5 2 3.5 0.9 2.5 1.2 3.5 0.7 3 1.6 4 1.2 3.5 1.8 5 0.5 2.8 0.8M14 150.3l7 1.7 7 0 2 0.3 1 0.4 2.5 2.1 1 0.5 8.5 1.7 3.5 1.5 4 1 4.5 2.6 4.9 1M14 152l3 0.4 4.5 1.3 4.5 0.2 2.5 0.5 1.2 0.6 1.8 2.5M33 158.2l4.5-0.3 4.5 0.6 4 1.5 4 0.9 2.3 1.6M15 153.4l2 0.3 1.7 0.8M42 160.2l1.1 0.3M85.8 226.5l-1.1-4.5 0.8-2.5 2.1-3 0-1.5-1-2.1M87.6 226.5l-0.2-5 0.4-1 1.7-2.2 0.4-1.8-0.5-2-2.4-4.7M89.8 227.5l-0.2-1.5 0.2-1.5 2.3-3.5 0.4-1 0.1-1.5-0.9-4-2.2-3-0.7-1.5-0.3-5M89 199l-0.5-2.5M95 228.5l0-2 1.2-4 0.1-2.5-2.8-8-0.5-0.8-1.5-1.2-0.7-1-0.1-3.5-1.3-4.5M97.1 229.5l1-5 0.2-5.5-0.4-4-1.2-3.5 0.3-4.5-0.5-1.3-3.7-5.2-0.9-4.5-0.9-2M99.2 229.5l1.1-2.5 0.4-1.5-0.6-4 0.5-5.5-1.4-6 0.3-4-0.5-3 0-3.5-0.5-1.6-2.2-3.9-2.3-3M102.3 230.5l1.1-2 1.6-6.4 0-1.6-1.9-4-1.8-6.5 0-12-0.7-4-1.2-2.5-3.5-2.9M105 231.5l1-5.4 1-3.6 0.1-3.5-0.6-1.5-2.1-3-1.5-4.5-0.1-2 0.5-7.5-0.5-8-0.8-1.6-2.5-2.4-1.8-2.2M106.8 231.8l0.8-3.3 1.8-4-0.5-6-0.7-2-2.9-4-1-3-0.1-2.5 1-5.5-0.7-10.2-1-1.8-2.9-2.5-0.9-2.2M108.5 232.5l0.6-2.5 2.3-4.5 0.2-2.5-1.8-7-0.8-1.4-2.2-2.6-1-2-0.1-3 1-5-0.4-10.5-1.2-3-2.8-3-0.6-2.2M110.6 233.5l0.3-2.5 2-3.5 0.8-5-2.9-8-2.8-3.8-0.6-1.2-0.1-2 0.8-4.5 0.6-6-0.3-4-1.4-4.8-2.5-4-0.7-2.2M113.3 233.5l0.2-1.5 1.6-3 0.8-7-0.6-2-5-10.5-0.7-2-0.2-2 0.4-3 0.7-2 1.2-2 0.2-1.5-1-4-1.7-4-1-3.5-1.8-3-0.2-1 0.3-1.5M116.3 234.5l0.2-2 1.6-4 0-5-1.1-5.5-0.6-4-1.9-3-1-4-1.1-1.5-0.4-1 0.5-1.5 2.5-4 0.4-2-2.1-5-1.9-3-0.6-1.5 0.1-2 1.2-4M120.3 235.5l0.7-1.5 0.5-6-0.5-2.8-1.5-4.2-0.3-2 0.2-1.5 1.3-2.5 0.1-2.5-0.4-2-2-3 0-1 1.1-3 0.2-1.5-1.4-9.5-0.8-1.6-3-3-0.8-1.4 0.1-1.5 1.2-3M126.6 237.5l0.2-1-0.4-1-2.4-3.5-1.1-7-1.4-5 0.5-1.5 1.5-2 0.3-1.5-0.6-5-1.2-3.5 0.3-3.5-0.4-3.5 0-4 0.9-3.5-0.3-1-2.7-2.5-1.5-2-0.6-1.5 0.2-2M129.1 238.5l0.3-1.5-0.1-1.5-0.8-1.9-3.1-5.6-1-6.5 0.1-1.5 1.2-3 0.1-1.5-0.5-5.5-0.8-3.5 0-3.5-0.7-3-0.2-1.5 0.3-2 1.1-4 0.2-1.5-0.7-1.5-2.4-2.5-1.1-3M131.2 239.5l0.3-3-0.5-3-0.7-1.5-2.5-3.5-0.6-2-0.3-5.5 1.1-3.5 0.1-1.5-0.7-3-0.3-3.5-0.6-3-0.2-4-0.9-3-0.2-1.5 0.4-2.5 1.3-4 0.1-1.5-0.5-1.8-1.7-2.7M134.8 239.8l-0.2-4.8-0.4-1.5-3.9-4.5-0.9-2 0.4-4.5 0.7-4 0-2.5-1.1-4-0.4-3.5-0.9-3.5-0.4-3.5-1.1-4 0.3-2 1.6-4.5-0.2-4M137 240.5l-0.3-3.5 0.4-3.5-0.1-1-0.8-1-3.4-2.5-0.9-2 0.4-7-0.3-11.5-0.4-1.5-1.9-3-0.6-3.5-1.1-3.5 0.4-2 1.5-3.5-0.1-3.7M138.5 239.5l-0.2-3 0.8-3 0.1-1.5-0.7-1.6-2.9-2.9-1.1-4.2-0.5-3.1-0.1-5.7 1.1-6-0.1-2-0.8-1.5-1.9-1.5-0.7-1-1.7-5.5 0.1-1.5 1.5-3.5-0.1-3.7M140.5 229.5l-1.6-2.5-2.3-6-0.6-2 0.1-5.5 1.5-4 0.3-4-0.4-1.5-1-1.8-3.1-2.7-1.2-2-0.2-1.5 1-4 0-3M141.4 227.5l-0.9-2.5-0.4-3.5-0.9-4.5 0.2-2.5 1.2-3.5-0.7-3.5 0-3-0.4-1.5-0.9-1.5-3.6-3.5-0.8-1.5-0.1-2 0.9-4.5M142.5 221.3l-1.1-4.3 0.2-2 0.9-3.5-0.6-4 0.3-4.5-1-2-3.4-3-1.4-2-0.3-2.5 0.9-2.5M144.3 211.5l-0.7-4 0.9-4.5-0.2-2-0.8-1.7-2.5-1.8-0.9-1-0.4-1.5 0.3-2.5M145.9 197.6l-1.8-2.1-0.5-0.9M130.3 96l0-2.5 0.7-3-0.7-2.5 0.1-1M134 97l1.4-7-0.6-4.3M137.9 97l0.9-3 3.2-2.2 0.6-0.8 0.2-1-0.5-1-2.8-1.4-1-0.9-0.6-1.2-0.2-1.5M142.8 95l2.1-3.5 0.3-1.5-0.1-1.5-1.1-1.5-3.1-1.5-0.6-1 0.1-1.5M145.6 95.1l1.5-4.1 0.3-3.5-0.9-2.3-2.3-2.2-0.5-1.2M147.4 96.9l1.7-6.9 0.3-2.5-0.9-4.1-2.1-3.4M144.5 109.4l0.6-1.4 2.7-2 0.8-1.5 0.6-4.5 0.2-4.5 1.6-7 0.3-7.5-0.7-2.1M146.8 113l0.1-1.5 0.6-1.3 1-0.5 1.5-0.4 0.9-0.8 0.8-3 1.4-3-0.2-1-1.6-2.5-0.3-3.5 1.4-6 0.6-5.3 0.6-1.2 2-3 0-1-0.8-2.3M151.4 115.9l0.7-1.9 2.6-3 0.2-1-0.8-2.5-0.1-1 0.4-1 1.7-2 0.4-1 0.1-1-0.5-1-2.1-1.5-0.9-1-0.6-2.5 0.4-2 1.4-4.5 0.5-4 0.9-1.5 2.1-2 0.7-1.5 0-1-1.1-3M154.9 118.9l1.3-4.9 1.4-3.5 0-4 0.9-3 0.2-2-0.3-1.5-0.5-1-3.2-2.5-0.4-2 2.1-5.5 0.8-4 2.3-3 0.9-2 0.1-1.5-0.9-3.5M157.6 121.6l0.8-1.6 0.4-6 1.1-4.5 0.6-9.5-0.6-2.5-2.4-2.5-0.4-1.5 1.6-4.5 0.7-3.5 1.8-3.5 1.2-3 0.1-1.5-0.7-2.5M159.4 124.4l2.1-1.9 0.7-2-1.1-4.5-0.1-2 0.7-5 0-4.5 0.8-7-0.3-2-1.3-2.5-0.2-1.5 1.3-4.5 0.7-4 1.5-4.5-0.2-2.5M162.9 128.4l0.3-2.4 1.5-4.5 0.2-1.5-0.1-1.5-1.3-5-0.2-2 0.3-8 1.3-7.5-0.4-5.5 0.6-4-0.3-4 0.8-4.5-0.1-2M166.6 131l-0.5-4 1-3.5 0.7-5-2-6.5-0.1-9.5 1.4-5.5 0.3-3.5 1.3-7.5-0.2-1.5-1.6-3.5 0.1-4M169.4 132.5l0.1-1.5-0.9-2.5-0.1-1.5 0.5-2.5 0.2-3 1.1-3 0.1-1-2-3.5-0.5-2 0.6-6 0-3.5 2-6.9 3.4-4.6 0.5-1.5-0.4-1.4-2.1-2.6-2.6-5.5-0.7-3M171.4 133l0.2-2-1.1-3.5 0.2-5.5 1.8-4 0.1-1.5-0.5-1.5-1.6-2.5-0.1-1.5 1.3-4-0.1-3.5 1.5-5.5 0.9-2 2.6-4 0.5-2.5-0.6-2.3-3.3-4.2-2-5M173 133.5l0.3-2.5-0.8-4 0.1-5 2.4-5.5 0.4-5 2.1-3.1 0.5-1.4-0.2-2-1.9-4-0.3-2.5 0.7-2 2.4-3.5 0.7-2.5-0.2-2-0.6-2-1.6-3-2.2-3-0.7-1.5M174.8 133.5l-0.3-6.5 1.2-6.5 2.3-4.5 0.4-4 1.6-2.5 0.6-2-0.1-2-1.9-6-0.2-1.5 0.6-1.4 2.5-3.6 0.7-2-0.4-2.5-1.8-4-0.7-2.5-2.5-3M177.4 133.1l-0.9-2.6 0-2.5 2.1-6.5 1.9-3.5 1.7-5 1.7-9 0-1.5-0.9-2.5-0.2-1.5 0.3-1 1.7-2 0.4-1-0.2-2-1.2-5-1.8-4-0.6-2.5M181.4 132l0.1-1.5 1.5-1.4 0.5-1.6-0.2-1.5-1-2.5 0.7-7 1.8-7.5 2.1-5 0.6-3.5 0.9-3.5-0.2-1.5-1.9-5-1-5-1.6-3.8M186.2 127.5l-0.2-3.5-1.4-5-0.1-2.5 1.9-7 2.4-4.5 1.5-7-0.4-2.5-2.1-5-0.7-5-1-3.5M188.1 126.5l-0.3-3.5-1.5-4.5-0.1-2 1.3-3.5 0.9-3.5 2.7-4 0.7-6.5-0.7-4-1.9-5-1-7M189.7 123.8l-0.4-2.8-0.9-3 0.1-1.5 1.4-3 0.9-3.5 2.6-3.5 0.5-2-0.5-6-1.4-6-1.1-3-0.5-5.5M191.5 121l-0.4-3 0.2-1.5 2.2-5.5 2.3-3 0.9-2.5-1-7-1.2-4 0.1-1.5 0.7-3-0.3-2.5 0.2-2.5M199.5 102.3l-1.4-7.3 0.2-1.5 1.1-2.5 0-1.5-1.4-3.5M194.8 116.7l0.2-1.7 1.5-2M140.5 134.3l-1 1.2-0.2 1.5 0.7 1 1.2 1 0.3 1-1.1 2-0.9 3.5-1.3 2.5-0.3 1.5 0.6 1.7 1 0.8 1 0.4 0.5 0 0.3-0.4 1.2-2.7 1-0.9 1.5-0.1 3 1.2 1.5-0.5 0.2-0.5-2.4-4-2-2-1-1.5 0-0.5 1.2-1.1 0.5-0.9-0.3-1.5-0.7-1.4-1-0.9-1-0.5-1.5-0.1-1 0.2M160 152.4l-0.9 0.6 0.4 1.1 1.5 0.4 1.1-0.5 0.2-0.5-0.3-0.7-1-0.4-1 0M141.5 153.6l-0.4 0.9 0.2 1 0.7 0.6 1-0.3 0.4-0.8-0.4-0.9-1-0.6-0.5 0.1M157 165.9l-1 0.5-0.6 1.1-0.2 1.5 0.2 2 0.6 1.3 0.8 0.7 1.2 0.4 1 0 1-0.4 0.5-0.6 0.3-1.4-0.1-1-1.7-3.4-1-0.6-1-0.1M125.5 128l-1.5 1-0.5 1-0.3 1.5 0.4 2 0.9 0.9 1 0.2 1-0.2 1.6-0.9 1.2-1 0.6-1-0.3-1.5-1.1-1.4-1.5-0.7-1.5 0.1M134 130.9l-0.9 0.6-0.3 0.5 0.1 0.5 2.3 2 0.8 3.5 1.6 4-0.1 2-1 4.5 0 2 1.5 3.5 0.5 2.5 1 1.3 2.5 0.5 2.5-0.5 1-1.1 0.5-2.7 0.5-1 1.5-0.8 4-0.7 1.5 0.3 1 0.5 1.8 2.7 1.7 1.4 2 0.9 1.5 0 2-1.1 3-3.7 3-1.8 1.1-1.2 0.1-1-0.2-0.6-1-1.2-1-0.5-1 0.5-2 3.3-1 0.7-2-0.1-3.5-1.2-5.2-2.9-1.3-1-1-2.9-2.3-2.1-1.7-3.5-1.5-2.4-1-1-6.5-2.8-3-0.1-1.5 0.2M110.5 143.5l-0.3 0.5 0.8 0.6 0.9-0.1 0.6-0.5-0.1-0.5-0.4-0.2-1.5 0.2M134 160.5l-2.8 0.5-1.3 1-0.4 1 0 1 0.5 1 1 0.9 1 0.2 1-0.3 3.6-2.8 0.3-1-0.4-1.3-1-0.3-1.5 0.1M162.1 170.5l-1.1-4.6-0.5-0.9-1-0.9-1.5-0.5-2 0-2 0.7-1.1 1.2-0.1 2 0.6 4.5 0.5 1.5 1.1 1.1 2 1.1 1.5 0.5 1-0.2M166.1 131.1l1.4 1.4 1.2 0.2M98.7 139l0.4 1 1.4 1.1 1.5 0.5 2 0.1 1 0.4 0.5 0.9 0.3 2.5 1.2 0.9 3 0.7 1.5 0 2.7-1.1 1.6-1 0.7-1.2 0.1-1.8-0.3-1-0.8-0.8-5 0.3-2-0.8-3-2.2-1.8-0.5-2.7-0.3M98.5 145.5l-0.8 0.5-0.5 1 0.4 1 0.9 0.6 1.5 0.4 1-0.2 1-0.6 0.6-0.7-0.1-1-1-1-1.5-0.4-1.5 0.4M149.3 154l1.7-0.2 1 0.2 0.6 0.5 0.9 2 3.7 2.5 1 1.5-0.8 0.5-4.9 1-2-0.4-2-1.1-0.7-1-0.1-3.5 0.3-1 1.3-1M124 157.9l0 0.7 1 0.8 1 0 0.5-0.4-0.2-0.5-0.8-0.7-1-0.3-0.5 0.4M102 158.4l-0.8 0.6-0.2 0.5 0.3 3.5-0.2 1.5-1.9 2.5-0.5 1.5 0.4 1 1.4 0.6 1.5-0.1 0.7-0.5 0.4-1 0.3-3 3.1-2.3 0.7-1.7-0.2-1.7-1-1.3-2-0.4-2 0.3M162.8 168.7l-0.5-4.2-2.2-3-0.1-0.5 5.9-2.5 0.8-1 1.8-3.5 4.3-3 0.6-1 0-1-0.4-1-3-4.3-1-0.5-1.5 0.6-1.2 1.2-1.8 2.6-1 0.9-1.5 0.1-1.5-0.7-4.5-3.3-1.5-4.1-1-1.4-3-0.8-2-2.1-2.5-3.5-4.1-1.7-3.4-3.1-2.2-1.4-0.2-1 0.5-3.5-0.1-0.5-1-0.7-1.5 0.1-1 0.8-0.7 1.3-0.8 2.9-0.5 0.5-1 0.2-5.5-0.6-1.5 0.7-1.2 1.3-0.4 1.5-0.1 3 0.4 1.5 0.8 1 2.5 1.3 4 0.3 2.5 0.6 1 0.6 0.4 0.7 0.3 2.5 1.4 2.5 0.6 2-0.3 4.5 0.6 3.5-0.1 2.5-0.5 1.5-0.9 0.8-5 1-1.1 0.7-0.3 3.5 0.9 4-0.5 0.5-1 0.2-3-0.5 1.5 4.8-0.7 0.5-3.8 0.4-1-0.4-3-2.2-1-0.4-1 0.3-0.4 0.8 0.5 1.5 2.7 2.5 1.5 2 0.7 0.5 3 0.4 3.5 1 4.5-0.5 2.5 1.8 1 0.4 2 0 1.5-0.5 1-1 0.3-1.1-0.3-2-0.6-1.5-1.4-1.3-5-0.9-0.5-0.8 0.3-1.5 0.5-1 2.3-2.5 3.9-2.9 2-3.1 2-0.8 2.5 0 1.5 0.5 0.7 0.8 2.6 6 1.8 7 1.9 3.5 1.6 1 2.4 0.3M127.1 119l1.4-0.3 0.6 0.3 0.2 0.5-0.3 1.3-0.5 1-0.5 0.4-0.5-0.5-0.6-1.2-0.1-1 0.3-0.5M102 122l3-0.2 1-0.6 0.4-0.7-0.3-2-3.1-5.5-1.5-1.3-1.5 0-2.1 1.8-0.9 2M161.1 127.1l-2.3 2.4-0.3 1 0.2 0.5 0.8 0.7 3 0.5 2.5 1.5 1.9 1.8 1.6 2.7 0.5 0.1 1-0.9 2.2-3.4M119 137l1.5-0.3 1.5 0.2 4.5 1.7 1.8 1.4 0.9 4.5 2.8 2.5 0.8 1.5-0.3 3.9-1 2.6-0.9 1-1.1 0.3-2-0.3-5-2.5-0.5-0.5-1.5-3-1.7-2-0.5-9.5 0.2-1 0.5-0.5M96.8 137.8l0.3 2.2 1.1 2 0.1 1-3.1 2.5-1.3 1.5-0.5 1.5-0.1 3 0.4 2.5 1.4 3 2.9 3.4 0.8 1.6-0.1 2-1.7 3M105.5 149.5l2 0.2 0.5 0.3 0.4 1-0.1 1.5-0.6 1.5-0.7 0.8-1 0.3-1.8-0.6-1.2-1-0.6-1 1.5-2 1.6-1M163.7 166.8l0.6-3.3 0.7-1.4 3.2-3.1 2.3-4.1 1.1-0.9 2.9-1.5 0.9-1 0.3-1.5-0.5-1.5-1.9-3-1.2-2.5-3.1-2.9-1 0.6-2.5 3.1-2 1.8-1 0.4-1.5-0.4-1.6-1.1-1.4-1.4-3.5-5.6-1-0.6-2.5-0.5-1-0.6-1-0.9-2.3-3.4-3.2-1-1.5-0.9-1.2-1.6-1.6-3-0.1-1 0.9-4-0.1-1.5-0.4-0.7-2.1-1.8-0.7-3.5-0.6-1-0.8-0.5-1.8-0.4-2.1 0.4-0.3 0.5 0.9 1.4 0.1 1.1-0.6 0.7-0.5 0.1-0.8-0.3-0.6-1 0.2-2-0.8-0.3-0.7 0.3-3.3 4.5-3.4 8-1.1 0.8-3.5 0.6-1 0.6-0.5 1-0.3 1.5 0.3 1.2 1.4 2.3 0.3 1-0.1 2-0.6 1-1.5 0.6-4 0.4-5.5-1.5-3.5-0.5M101.9 172.4l2.1 0.1 1.2-0.5 0.7-1 0.8-2.5 1.8-1.3 1-1.2 0.5-2-0.4-3.5 0.4-1 2 0.5 1.5-0.3 1.3-1.2 1.4-3 0.7-1 1.1-0.5 1.5 0 1 0.3 0.6 0.7 0.2 3.5 1.2 3 0 1-2.8 2-2.2 2.3-3 0.9-1 0.6-1.3 1.7-0.6 2 0.6 1.5 2 2 2.1 3 1.5 1.5 1.7 0.7 3-0.2 3.5 1 3 0.2 0.6 0.3 1.4 1.5 1 0.3 1.5 0 5-1.1 2.3-1.2 1.1-1 1.6-8 1.5-1.5 2-1 1 0.7 1 1.6 0.4 1.7 0 1.5-0.4 1-0.5 0.4-2.5 0.9-1.7 1.7-0.2 1 0.7 1.5 1.7 1.1 1.5 0.2 5-1.4 3.9-0.3M128.3 186.5l-0.3-1-0.5-0.3-1.4 0.4M140.4 96.5l-0.4 1.5 0 0.5 0.5 0.5 2.5 1 3 2.5 0.5 0.1 0.5-0.9 0.6-1.7 0-0.9M147.5 98.4l-0.2-1.1M100.6 109l-3.2 2.5-1.8 2.1M151 116l-0.1 1.5 0.8 2 0.5 2-0.2 2.5-0.5 0.7-2.7 1.8-1.1 2.5-2.7 0.5-1.5-0.4-0.6-0.6-0.8-1.5-0.4-2 0.7-4 1.9-3.5-0.3-1-7-7.3-1-0.5-3.3-0.7-1.7-1-1.5-2.9-0.5-0.4-2-0.2-0.8 0.5 0 3-0.5 2-1.7 3-2.8 3.5-1.1 3-0.1 3-0.5 0.9-0.5 0.4-1 0-0.8-0.8 0.6-3-0.5-1-0.8-0.5-1.5 0.1-3.5 1.6-1.5-0.1-1-0.6-1.5-2-2-4-2.3-2.5M110.7 123.5l1.3-0.1 1.1 0.6 0.2 1-0.8 1.3-1 0.1-1.2-0.9-0.4-1 0.2-0.5 0.6-0.5M155.3 125.5l1.2 0.2 0.5 0.5-0.8 3.3 0.2 1.5 0.6 1.5 1 0.8 3.3 0.7 1.7 0.8 1.4 1.2 0.9 1.5 0.6 2-0.2 1.5-1 1.5-1.2 0.8-1.5 0.1-1.4-0.9-3.4-3.5-1.5-2.5-0.7-0.7-4-0.9-1-0.7-0.8-1.2-0.8-2.5-0.1-1 0.2-0.4 3-1.6 2-1.6 1.8-0.4M103 125.7l0.5 0 0.5 0.5 1 2.3 1.2 1.5 1.3 0.8 2.2 0.7 0.8 1-0.5 1-1.5 0.5-4.5-0.7-1.1-0.7M103 129.3l0-1.4M86 132.3l1.5 0.2M88.4 133l2.6 2.4 3.4 2.1 0.6 2-0.1 2.5-0.4 0.7-1 0.8-2 0.9-1.5 0.2-0.5-0.3-0.7-1.1M180.5 133l-0.5 1 1.5 2.3M123.4 141l0.6-0.1 0.5 0.4 0.5 2.7 1.6 3.5 0.5 4-0.4 0.5-1.7-0.5-1-0.9-2.5-5.1 0-2 1.9-2.5M87.8 144.7l1.1 1.3 0 1.5-0.4 1.6-0.9 0.9-4.5 3.1M178 149.5l-2.3-3-0.5-1.5 0.3-1.8 1.5-1.7 0-0.5-3-0.2-1-0.6-0.3-0.7 0.2-1 1.8-3 0.5-1.5M117.7 160l0.8 0 0.3 1-0.1 0.5-1.2 0.9-1.2 0.1-0.3-0.5 0.2-0.5 1.5-1.5M93.3 161.8l1.7-0.8 1 0.3 0.5 0.6 0.3 1.6-1 1.8M167 162.5l1.5-1.8M104.8 175.3l1.7 0 1.4 0.7 1.7 2 1.6 2.5M130.3 187.5l0.7-0.9 1-0.5 5.9-0.6 3.1-1.6 2-0.2 3.5 1.6 4 0.2 1.1 0.5 0.2 1-1.5 4.5M136 98l-0.3 3 0.2 3.5-0.4 0.7-1 0.4-0.9-0.6-0.9-3-1.2-1.8-1-0.2-2.5 0.7-1.5-0.2-1.5-0.9-2.5-2.7-2.5-1-1.5-0.2-0.9 0.8-0.3 1 0.3 5 0.4 2.2 0.5 0.4 2.5-0.6 1.5 0.4 1.1 1.6 0 1-0.5 1-1.1 0.7-1 0-1.9-0.7-1.6-1-4 7.5-1.3 1.5-1.2 0.4-1-0.3-0.9-1.1-2.2-5.9M107 107l1 0 1.2-1-0.1-1-1.1-0.8M98 109l-2.5 1.9-2 0.6M147.9 114.4l-1.4-0.3-2.4-2.6-3.1-1.9-0.9-1.1-0.2-1.5 0.6-0.8 4 0.5M146.4 119.5l1.1-0.2 1 0.3 1 1 0.4 1.4-0.2 1-0.9 1-1.3 0.8-1.5 0.3-0.5-0.2-0.9-0.9-0.3-1.5 0.1-1 0.6-0.9 1.4-1.1M151 130.5l1.5-0.5 1 0.3 0.9 1.2-0.1 1.5-0.5 0.5-0.8 0.2-1-0.1-1-0.5-0.6-1.6 0.6-1M178.5 146.4l-0.4-0.4-0.1-0.6 0.5-0.6 1-0.3M84.8 148.7l-0.8 0.9M106 177.8l2.4 2.2M132.3 188.3l0.7-0.4 1.5-0.2 5 0.5 2.9-1.7 1.1 0 2.7 1.5 1.2 1 1.1 4.6M115.7 94.8l-0.8 6.7-0.3 1.5-0.4 0.5-1.2 0.2-2-2.1-1-0.3M129.7 96.2l-1.7 1.1-1-0.2-5.4-3.1-1-1-0.4-1M111.2 110l0.8 0.1 0.5 0.9-0.5 1-0.5 0.3-0.6-0.3-0.3-1 0.6-1M135.4 189.9l1.6 0 3 0.5 3-0.4 1 0.3 1.1 1.2 1 2 0.2 1.5-0.3 1M127 93.6l-1.5 0.2-1.5-0.6-1-1.1-0.2-1.1M73.5 156l0.6-0.5M72.7 156.3l0.8-0.3M71.3 156.7l0.9-0.2M67.2 158.8l1.8-0.2 6 0.4 2.4-0.5 0.8-0.5 0.5-1-0.1-3M57 170l2.4-2.5 2.3-4.5 0.8-0.7 1.5-0.8 3.5-1.2 8.5 0.6 3-0.4 2-0.9 1.1-1.1 0.7-1.5-0.2-3.9M57 172.3l4.2-3.3 2.8-4 2.4-2 1.6-0.4 7.5 0.2 5-0.6 1.5-0.8 2-1.8 1.9-3.6M57 174.6l4-2.7 3.5-1.5 0.9-0.9 1.5-2.5 1.6-1.1 4-0.8 6 0 2.5-0.8 4.3-3.3 2.3-3.4M56 177.2l2-0.3 3-1.8 4.5-1.9 2.2-1.7 2.1-2.5 1.2-0.8 2.5-0.6 4.5-0.1 2.9-1 3.8-2.5 5.3-4.5M56 179.5l2.5-0.2 6.5-2.6 3.5-1.8 1-0.1 2 0.8 0.5-0.1 0.5-0.5 1.6-3.5 0.8-1 4.1-1.2 2.5-1.1 6-4.3 4.9-2.5M55 182.3l3.5-0.7 7-2.5 1.5-0.1 3 0.8 1.5-0.3 2.5-1.9 2.5-3.2 6-4 4.7-4.4 1.3-0.8 3.4-1.2 1.6-1M54.5 188.5l2.5-2.2 2-2.3 1.5-0.8 5-1.7 4 0.3 1.5-0.3 1.5-0.7 4.5-3.2 3-0.6 1-0.5 2-2.3 2.5-2.2 2.5-3.9 1.5-1.1 5.5-0.7 1 0.4 1.5 1.4M58.7 190.5l0.8-1 1.5-3.5 2-1.5 3-1 4-0.1 1.5-0.4 5.5-3.2 4.5-1.2 4-3.5 3.5-0.7 4.5 0.2 1.1-0.6 2.2-2.5 3-0.7M61.6 191.5l1.7-4 1.7-1.5 2-0.7 3.5-0.4 2-0.6 5.9-2.8 3.6-1.2 3.5-2.8 1.5-0.7 2-0.4 4 0.1 2-0.4 1-0.6 2.5-2.5 2.7-0.8M63.6 191.6l1.4-2.9 1.5-1.3 1.5-0.5 3 0.2 1.5-0.2 10-4.3 3.3-2.6 1.8-1 2.4-0.7 3.5-0.1 2-0.4 1.7-0.8 2.8-2.2 2.9-0.9M64.9 192.5l1.1-2 1-0.9 1.5-0.3 3.5 1.2 1.5-0.2 2.9-1.8 3.1-0.9 4.5-3.2 3.5-2.9 2-0.7 7.5-1.7 4-2.3 3.4-1.4M67.5 193.5l1.1 0M73.2 194.5l9.3-4.1 0.9-0.9 1.1-2.5 1.1-1.5 2.4-2.3 1.5-0.6 4.5-0.6 3.5-1 2-0.9 3.2-2.1 2.7-1.1M77.3 195.5l2.2-1.4 4.4-1.6 1.1-0.7 0.9-1.3 1.2-4 1.4-1.7 1.5-0.5 3.5 0 4.5-1 2-1 3.5-2.5 2.5-0.9M79.9 196.5l1.6-1 4.5-1.7 3.5-3.5 2.5 0.5 1.7 0M87.6 196.5l0.7-0.3M84.2 197.5l3.3-1"/>
<path fill="rgb(250,21,0)" fill-opacity="0.3" d="M78.7 79l1.3-0.4 1.5 0.2 1 0.9 0.3 1.3-0.4 1.5-2.1 3-0.9 1-1.4 0.9-1.5 0.5-1.5 0.2-3-0.5-2.5-1.2-1.1-0.9-0.8-1-0.3-1 0-1 0.5-1 1.2-1 2.5-0.8 5-0.1 2.2-0.6zM120.2 115l0.8-0.1 1.5 0.2 1.5 0.8 2 1.4 4.2 4.2 2 2.5 0.8 1.5 0.9 3 0.4 4-1 3-1.1 2-0.7 0.6-1 0.3-1-0.2-2.5-1-1.9-1.2-2.3-2.5-2.3-3.8-2-5.2-0.7-4.5 0.2-2 0.5-1.5 0.8-1 0.9-0.5zM147.3 122l2.2-0.1 3 0.7 2.5 1.3 2.5 2.2 2 2.9 1.3 3 0.9 3.5 0 3-0.9 3-0.8 1.5-1 1.1-1.5 1-4.9 2.4-1.5 1-0.9 1-0.3 1.5 0.4 3.5-0.1 2-0.4 1.5-0.9 1.5-1.1 1-1.3 0.7-1.5 0.2-2-0.1-4.5-0.8-5-1.5-0.6-0.5-0.6-1 0-3 0.9-3.5 0.7-1.5 0.8-1 1.3-0.6 3.5 0.2 1.1-0.6 0.1-1-1.5-3-0.1-1 1.2-3 2.2-8.5 1.5-4.6 1.5-3 1-1.1 0.8-0.3zM127 144l1-0.1 0.5 0.3 0.5 0.6 0.3 1.2-0.5 4.5-1.4 4-0.9 1-1 0.2-3-0.3-2.5-1.1-1.4-1.3-0.7-1.5 0-1.5 0.6-1.7 1-1.2 1.5-1 6-2.1zM91.5 144.5l1-0.1 1.5 1.2 0.5 0.9 0.2 1-0.4 1-0.8 0.1-0.5-0.2-1.1-0.9-0.7-1.5 0-1 0.3-0.5zM116 162.5l2.5 0 2.5 0.3 3 0.7 0.9 0.5 0.5 1 0.1 1.5-0.3 2-0.7 1.4-0.5 0.4-1 0.2-4-0.8-3.4-1.2-2.3-1.5-1-1.5 0-1 0.2-0.5 1.4-1 2.1-0.5zM132 165l1.5-0.1 2.9 0.6 1.6 0.5 1.8 1 1.7 2 1.1 3 0.2 1.5-0.2 2-0.6 1.8-1 2.1-2.5 3.3-1.5 1.2-1.5 0.5-2-0.1-2-1.2-1.5-1.7-1-2.6-0.1-3.3 0.6-5 1-3.6 0.5-1 1-0.9z"/>
<path fill="rgb(246,15,0)" fill-opacity="0.3" d="M79.7 79.5l0.8-0.2 1 0.2 0.6 1-0.1 1-1.7 2-1.2 2-1.6 1.3-2 0.5-2.5-0.3-2.2-1-1.4-1.5-0.3-1 0.1-1 0.8-1 0.8-0.5 2.7-0.6 4 0.2 1-0.3 1.2-0.8zM120.4 117l1.1-0.4 1 0.1 1.5 0.6 1.5 1 3.2 3.2 2.8 4 1 2.5 0.3 3.5-0.7 3.5-1.1 2.1-1 0.2-1-0.2-3.4-2.1-2.1-2.2-2-3.3-1.7-4-0.8-4 0-1.5 0.4-1.5 1-1.5zM147.8 124l1.7-0.3 1.5 0.1 1.5 0.4 1.6 0.8 1.4 1 1.5 1.5 2.2 3.5 1.1 4 0.1 2-0.2 2-0.7 1.8-0.8 1.2-1 1-1.2 0.6-2 0.7-2.5 0.4-1.5 0-1.5-0.4-1.4-0.8-1.1-1-1.1-1.5-1.2-2-0.7-2-0.4-2 0.5-4 0.9-3.1 1-2 1-1.2 1.3-0.7zM121.6 147l1.4-0.3 2 0 2 0.3 0.7 0.5 0.3 1-0.1 2-0.4 1.5-1 1.5-1.5 0.6-2.5 0.1-2-0.7-1.1-1-0.6-1.5 0.2-1.7 1-1.4 1.6-0.9zM135.5 149l1.5-0.3 3.5 0.7 3.5 0.4 2 1.1 1.5 1.9 0.8 2.2 0 2-1.1 2-1.2 1-1 0.3-2.5 0.2-5.1-1-3.5-1.5-0.5-0.5-0.4-1 0.1-2.5 0.9-3 1.5-2zM115 163.5l2-0.3 2 0 2.5 0.6 2 0.7 1 1 0.2 1-0.2 1.5-0.5 0.8-0.5 0.3-1.5 0.2-3-0.3-2.8-1-1.7-1.1-1-1.4 0.2-1 1.3-1zM131.9 167.5l1.1-0.3 2-0.1 1.5 0.3 1.5 0.6 1.4 1 0.9 1 1.3 2.5 0.2 1.5-0.1 1.5-1.2 3.2-2 2.8-1.2 1-1.3 0.5-2-0.1-1.6-0.9-1.4-1.5-1.1-2.5-0.3-2.5 0.4-3.7 1-3.3 0.9-1z"/>
<path fill="rgb(242,10,0)" fill-opacity="0.3" d="M72.2 82l1.3-0.4 1-0.1 2.1 0.5 0.8 0.5 0.6 0.8 0.2 0.7-0.3 1-0.9 0.8-1 0.4-1.5 0.1-1.5-0.5-1.2-0.8-0.6-1 0.1-1 0.9-1zM121.8 119l0.7-0.2 1 0.2 2.5 1.5 2.5 2.8 1.9 3.2 0.9 2.5 0.3 2.5-0.6 2.9-0.5 0.9-0.5 0.4-1.5-0.3-2.5-1.7-1.9-2.2-1.6-2.6-1.4-3.4-0.6-3 0.4-2.5 0.9-1zM149.9 126l1.1 0 1.5 0.3 2.2 1.2 1.9 2 1.5 3 0.7 3-0.3 2.7-1 2-1 1-1 0.5-1.5 0.3-1.5 0-2.5-0.8-2.1-1.7-1.7-3-0.7-3.5 0.1-2 0.4-1.5 0.5-1.1 1-1.3 1-0.7 1.4-0.4zM121.5 148.5l1-0.2 1 0.1 1.5 1.1 0.3 0.5-0.1 1-0.7 1-1 0.6-1 0.1-1-0.2-1-0.7-0.4-0.8 0-1 0.4-0.8 1-0.7zM136 150l1-0.2 1.5 0.3 4 1.3 2 1.2 1.2 1.4 0.6 1.5-0.2 1.5-0.6 1-1.5 1-2.5 0.3-3.8-0.8-2.7-1.4-0.5-0.6-0.5-1 0-1.7 0.8-2.3 1.2-1.5zM115.6 164.5l1.9-0.5 3 0.5 1.9 1 0.6 0.8 0.1 0.7-0.6 0.7-1.5 0.4-2 0-1.5-0.4-1.3-0.7-1-1-0.1-1 0.5-0.5zM133.2 170l2.3-0.5 2 0.5 1.9 1.5 1.1 2 0 2-0.6 2-1.4 2.2-1 1-1 0.5-1.5 0.1-1.6-0.8-1.4-1.5-0.9-2-0.3-2 0.4-2.5 0.8-1.6 1.2-0.9z"/>
<path fill="rgb(238,5,0)" fill-opacity="0.3" d="M123.2 122.5l0.8-0.4 1.5 0.7 1.5 1.5 1 1.6 1 2.1 0.3 1.5 0 1.5-0.6 1-0.7 0.1-1-0.4-1.5-1.4-1-1.3-1.5-3.5-0.2-2 0.4-1zM150.4 129.5l1.1-0.2 1.5 0.3 1.5 1.2 1.1 1.7 0.5 1.5 0 2-0.5 1.5-1.1 1-1.5 0.2-1.5-0.5-1.4-1.2-0.9-1.5-0.6-2 0.1-1.5 0.6-1.5 1.1-1zM136.6 152l0.9-0.3 1 0.1 3 1.2 1.2 1 0.6 1 0 1-0.3 0.5-1 0.6-1.5 0.2-1.5-0.4-1.9-0.9-0.9-1-0.4-1 0.2-1.2 0.6-0.8zM134.5 172.5l1-0.4 1.5 0.3 0.9 0.6 0.6 0.9 0.2 1.1-0.2 1.2-0.5 0.9-1 0.9-1 0.3-1-0.2-1-0.7-0.6-0.9-0.3-1 0-1 0.4-1.1 1-0.9z"/>
<polyline fill="none" stroke="#060606" stroke-width="0.864" stroke-linejoin="round" stroke-linecap="round" points="139.0,127.5 134.0,132.5 128.0,135.5 120.0,135.0 114.5,133.0"/>
<polyline fill="none" stroke="#060606" stroke-width="0.864" stroke-linejoin="round" stroke-linecap="round" points="133.0,140.0 130.5,150.0 128.0,160.0 126.3,168.2 124.5,180.0 123.5,192.0 123.8,197.8"/>
<polyline fill="none" stroke="#060606" stroke-width="0.864" stroke-linejoin="round" stroke-linecap="round" points="105.0,153.0 117.0,156.5 130.0,160.5 143.0,164.0 155.0,167.2"/>
<polyline fill="none" stroke="#060606" stroke-width="1.08" stroke-linejoin="round" stroke-linecap="round" points="15.0,151.8 38.0,157.0 60.0,162.4 75.0,164.0 93.0,165.5"/>
<polyline fill="none" stroke="#060606" stroke-width="0.864" stroke-linejoin="round" stroke-linecap="round" points="91.8,168.0 92.0,185.0 92.8,201.8"/>
<polyline fill="none" stroke="#060606" stroke-width="0.9359999999999999" stroke-linejoin="round" stroke-linecap="round" points="93.0,183.0 94.5,200.0 97.0,225.0"/>
<polyline fill="none" stroke="#060606" stroke-width="0.9359999999999999" stroke-linejoin="round" stroke-linecap="round" points="106.0,183.0 108.0,205.0 111.6,229.0"/>
<polyline fill="none" stroke="#060606" stroke-width="0.792" stroke-linejoin="round" stroke-linecap="round" points="123.4,175.0 120.0,188.0 116.8,198.7 117.5,210.0"/>
<polyline fill="none" stroke="#060606" stroke-width="0.792" stroke-linejoin="round" stroke-linecap="round" points="124.7,206.6 126.5,220.0 128.7,235.5"/>
<polyline fill="none" stroke="#060606" stroke-width="0.864" stroke-linejoin="round" stroke-linecap="round" points="19.0,123.0 30.0,123.3 40.0,125.0 52.0,127.2 62.0,130.0 72.0,134.5 80.0,140.0 88.0,147.0"/>
<polyline fill="none" stroke="#060606" stroke-width="0.792" stroke-linejoin="round" stroke-linecap="round" points="30.0,146.0 32.0,140.5 36.0,137.0 48.0,136.5 60.0,138.2 70.0,141.5 80.0,146.5 90.0,154.0"/>
<polyline fill="none" stroke="#060606" stroke-width="0.648" stroke-linejoin="round" stroke-linecap="round" points="64.0,124.4 62.0,132.0 58.0,142.0 57.0,152.0 60.0,162.4"/>
<polyline fill="none" stroke="#060606" stroke-width="0.72" stroke-linejoin="round" stroke-linecap="round" points="111.0,117.0 113.5,125.0 115.0,133.0 111.0,138.0 107.0,141.0 104.5,148.0 105.0,153.0"/>
<polyline fill="none" stroke="#060606" stroke-width="0.648" stroke-linejoin="round" stroke-linecap="round" points="139.5,148.0 134.0,140.0 128.0,135.5"/>
<polyline fill="none" stroke="#060606" stroke-width="0.648" stroke-linejoin="round" stroke-linecap="round" points="152.6,167.3 157.0,159.0 161.0,151.3 165.0,143.0"/>
<polyline fill="none" stroke="#060606" stroke-width="0.648" stroke-linejoin="round" stroke-linecap="round" points="152.6,167.3 149.0,178.0 146.0,190.0"/>
<polyline fill="none" stroke="#060606" stroke-width="0.648" stroke-linejoin="round" stroke-linecap="round" points="150.0,114.0 156.0,121.0 163.0,132.0 166.0,144.0 163.0,158.0 157.0,172.0 150.0,186.0"/>
<polyline fill="none" stroke="#060606" stroke-width="0.648" stroke-linejoin="round" stroke-linecap="round" points="100.5,140.6 104.0,146.0 108.0,152.0 117.0,156.5"/>
<polyline fill="none" stroke="#060606" stroke-width="0.648" stroke-linejoin="round" stroke-linecap="round" points="48.0,55.0 46.0,70.0 47.0,82.0 50.0,93.5"/>
<polyline fill="none" stroke="#060606" stroke-width="0.576" stroke-linejoin="round" stroke-linecap="round" points="52.0,84.0 62.0,87.0 72.0,90.5 84.0,93.0"/>
<polyline fill="none" stroke="#060606" stroke-width="2.3" stroke-linejoin="round" stroke-linecap="round" points="177.3,80.6 175.5,86.0 172.5,91.5 167.0,97.0 161.5,102.5 155.0,109.0 150.5,113.5"/>
<polyline fill="none" stroke="#060606" stroke-width="1.3" stroke-linejoin="round" stroke-linecap="round" points="152.0,112.0 147.0,117.5 144.0,121.0 139.0,127.5"/>
</g>
<polygon points="32.5,43.3 90.5,53.2 84.0,99.5 24.5,89.5" fill="none" stroke="#022" stroke-opacity="0.55" stroke-width="0.5"/><polygon points="21.0,110.8 45.0,118.0 64.0,124.4 81.0,130.5 92.0,136.5 98.0,140.2 100.5,140.6 103.0,136.0 105.0,130.0 104.5,124.0 103.0,119.5 94.0,110.6 101.0,111.0 108.0,112.3 109.0,106.0 111.0,101.8 117.0,95.0 135.0,86.6 155.0,78.0 160.0,76.0 177.0,81.0 198.0,88.0 197.2,105.0 194.0,115.0 187.0,125.0 180.0,135.0 176.0,149.0 169.0,157.0 163.0,165.0 158.5,173.0 155.0,181.0 149.5,189.5 144.0,197.0 143.0,205.5 137.0,238.7 85.0,224.0 91.8,197.8 56.0,188.0 60.0,162.4 15.0,151.8" fill="none" stroke="#022" stroke-opacity="0.55" stroke-width="0.5"/>
<polyline fill="none" stroke="#f4f000" stroke-width="0.95" stroke-linejoin="miter" points="119.7,110.0 121.5,133.0 139.5,148.0 178.0,93.0"/>
<circle cx="151" cy="130.8" r="3.5" fill="#050505"/>
<text x="158.9" y="131.9" font-family='"Liberation Sans", sans-serif' font-size="9" fill="#1c1c1c" textLength="33.9" lengthAdjust="spacingAndGlyphs">7324/8-1</text>
<defs><linearGradient id="lga" x1="0" y1="190.2" x2="0" y2="248.5" gradientUnits="userSpaceOnUse">
<stop offset="0" stop-color="#ff3200"/>
<stop offset="0.08" stop-color="#ff7800"/>
<stop offset="0.15" stop-color="#ffbe00"/>
<stop offset="0.21" stop-color="#faf500"/>
<stop offset="0.27" stop-color="#96f000"/>
<stop offset="0.34" stop-color="#14eb14"/>
<stop offset="0.45" stop-color="#00f082"/>
<stop offset="0.58" stop-color="#00ebfa"/>
<stop offset="0.68" stop-color="#008cff"/>
<stop offset="0.79" stop-color="#1414ff"/>
<stop offset="0.87" stop-color="#8200ff"/>
<stop offset="0.93" stop-color="#e600ff"/>
<stop offset="1" stop-color="#ff00e6"/>
</linearGradient></defs>
<text x="11.6" y="174.9" font-family='"Liberation Sans", sans-serif' font-weight="bold" font-size="9" fill="#111" textLength="40.6" lengthAdjust="spacingAndGlyphs">Resistivity</text>
<text x="11.6" y="184.9" font-family='"Liberation Sans", sans-serif' font-weight="bold" font-size="9" fill="#111" textLength="31.9" lengthAdjust="spacingAndGlyphs">[ohm.m]</text>
<rect x="12.8" y="190.2" width="8.4" height="58.3" fill="url(#lga)"/>
<text x="25" y="199.85" font-family='"Liberation Sans", sans-serif' font-weight="bold" font-size="8.1" fill="#151515" stroke="#151515" stroke-width="0.15">1000.0000</text>
<path d="M21.2 196.90h2.2" stroke="#555" stroke-width="0.6"/>
<text x="25" y="213.10" font-family='"Liberation Sans", sans-serif' font-weight="bold" font-size="8.1" fill="#151515" stroke="#151515" stroke-width="0.15">100.0000</text>
<path d="M21.2 210.15h2.2" stroke="#555" stroke-width="0.6"/>
<text x="25" y="226.35" font-family='"Liberation Sans", sans-serif' font-weight="bold" font-size="8.1" fill="#151515" stroke="#151515" stroke-width="0.15">10.0000</text>
<path d="M21.2 223.40h2.2" stroke="#555" stroke-width="0.6"/>
<text x="25" y="239.60" font-family='"Liberation Sans", sans-serif' font-weight="bold" font-size="8.1" fill="#151515" stroke="#151515" stroke-width="0.15">1.0000</text>
<path d="M21.2 236.65h2.2" stroke="#555" stroke-width="0.6"/>
<text x="25" y="252.85" font-family='"Liberation Sans", sans-serif' font-weight="bold" font-size="8.1" fill="#151515" stroke="#151515" stroke-width="0.15">0.1000</text>
<path d="M21.2 249.90h2.2" stroke="#555" stroke-width="0.6"/>
<text x="96" y="240.7" font-family='"Liberation Sans", sans-serif' font-weight="bold" font-size="6.8" fill="#111" textLength="22.2" lengthAdjust="spacingAndGlyphs">2500m</text>
<path d="M89.9 238.4V242.8H123.8V238.4" stroke="#111" stroke-width="1.1" fill="none"/>
<text x="188.5" y="220" text-anchor="middle" font-family='"Liberation Sans", sans-serif' font-weight="bold" font-size="10" fill="#111">N</text>
<path d="M180.5 232L197 248.6M197 233L180.5 249.6" stroke="#c8c8c8" stroke-width="0.8"/>
<path d="M188.8 222.7L190.4 241.4H187.2Z" fill="#ff1010"/>
<rect x="187.4" y="240" width="2.8" height="2.8" fill="#103010"/>

<defs>
<linearGradient id="secg" x1="0" y1="35.7" x2="0" y2="253" gradientUnits="userSpaceOnUse">
<stop offset="0" stop-color="#ff00ff"/>
<stop offset="0.0985" stop-color="#ff00ff"/>
<stop offset="0.1000" stop-color="#30b0ff"/>
<stop offset="0.108" stop-color="#00e4ff"/>
<stop offset="0.16" stop-color="#00f0f8"/>
<stop offset="0.25" stop-color="#00f4ee"/>
<stop offset="0.285" stop-color="#00f8c0"/>
<stop offset="0.315" stop-color="#08f850"/>
<stop offset="0.345" stop-color="#14f41c"/>
<stop offset="0.375" stop-color="#0cf83c"/>
<stop offset="0.43" stop-color="#04fc70"/>
<stop offset="0.50" stop-color="#02fd7a"/>
<stop offset="1" stop-color="#02fd7a"/>
</linearGradient>
<linearGradient id="bandc" x1="256" y1="0" x2="536" y2="0" gradientUnits="userSpaceOnUse">
<stop offset="0" stop-color="#70ff00"/>
<stop offset="0.05" stop-color="#b0ff00"/>
<stop offset="0.10" stop-color="#f0f800"/>
<stop offset="0.15" stop-color="#ffd800"/>
<stop offset="0.20" stop-color="#ff9800"/>
<stop offset="0.28" stop-color="#ff5800"/>
<stop offset="0.34" stop-color="#ff7000"/>
<stop offset="0.39" stop-color="#ffb800"/>
<stop offset="0.44" stop-color="#fff000"/>
<stop offset="0.76" stop-color="#fff000"/>
<stop offset="0.80" stop-color="#ffa800"/>
<stop offset="0.85" stop-color="#ff6000"/>
<stop offset="0.95" stop-color="#ff6800"/>
<stop offset="1" stop-color="#ff9000"/>
</linearGradient>
<linearGradient id="bandm" x1="256" y1="0" x2="536" y2="0" gradientUnits="userSpaceOnUse">
<stop offset="0" stop-color="#50ff10"/>
<stop offset="0.06" stop-color="#a0ff00"/>
<stop offset="0.12" stop-color="#f0fc00"/>
<stop offset="0.2" stop-color="#fff000"/>
<stop offset="1" stop-color="#fff000"/>
</linearGradient>
<linearGradient id="bando" x1="256" y1="0" x2="536" y2="0" gradientUnits="userSpaceOnUse">
<stop offset="0" stop-color="#10ff50"/>
<stop offset="0.10" stop-color="#50ff00"/>
<stop offset="0.20" stop-color="#b0ff00"/>
<stop offset="0.38" stop-color="#b0ff00"/>
<stop offset="0.45" stop-color="#60ff00"/>
<stop offset="0.75" stop-color="#60ff00"/>
<stop offset="0.82" stop-color="#c0ff00"/>
<stop offset="1" stop-color="#c0ff00"/>
</linearGradient>
<filter id="bl1" x="-5%" y="-100%" width="110%" height="300%"><feGaussianBlur stdDeviation="1.5 1.1"/></filter>
<filter id="bl2" x="-5%" y="-100%" width="110%" height="300%"><feGaussianBlur stdDeviation="1.5 0.7"/></filter><filter id="bl4" x="-30%" y="-80%" width="160%" height="260%"><feGaussianBlur stdDeviation="12 5"/></filter><filter id="bl3" x="-5%" y="-100%" width="110%" height="300%"><feGaussianBlur stdDeviation="2 0.6"/></filter>
<clipPath id="secclip"><rect x="256.4" y="35.7" width="279.1" height="217.3"/></clipPath>
<linearGradient id="lgb" x1="0" y1="125.8" x2="0" y2="248" gradientUnits="userSpaceOnUse">
<stop offset="0" stop-color="#ff2000"/>
<stop offset="0.06" stop-color="#ff5800"/>
<stop offset="0.12" stop-color="#ffa000"/>
<stop offset="0.20" stop-color="#ffe000"/>
<stop offset="0.27" stop-color="#e8f800"/>
<stop offset="0.32" stop-color="#a0f400"/>
<stop offset="0.40" stop-color="#40f020"/>
<stop offset="0.50" stop-color="#00f890"/>
<stop offset="0.60" stop-color="#00f0f0"/>
<stop offset="0.70" stop-color="#00a0ff"/>
<stop offset="0.80" stop-color="#2020ff"/>
<stop offset="0.88" stop-color="#9000ff"/>
<stop offset="0.95" stop-color="#f000ff"/>
<stop offset="1" stop-color="#ff00f0"/>
</linearGradient>
</defs>
<path d="M252.5 32.3V255.4M252.5 32.5H536M252.5 255.4H536" stroke="#b4b4b4" stroke-width="1" fill="none"/>
<rect x="256.4" y="35.7" width="279.1" height="217.3" fill="url(#secg)"/>
<g clip-path="url(#secclip)">
<ellipse cx="412" cy="111" rx="52" ry="11" fill="#04fc78" opacity="0.75" filter="url(#bl4)"/>
<polygon points="250.0,71.08 256.0,71.08 275.0,70.40 300.0,68.64 320.0,67.46 345.0,66.72 368.0,67.20 378.0,69.92 400.0,70.80 418.0,70.60 428.0,68.80 448.0,68.38 465.0,68.82 476.0,66.16 490.0,65.08 515.0,64.84 536.0,65.68 542.0,65.68 542.0,76.72 536.0,76.72 515.0,76.36 490.0,76.12 476.0,76.24 465.0,75.78 448.0,74.62 428.0,74.80 418.0,76.60 400.0,76.80 378.0,76.88 368.0,76.80 345.0,77.28 320.0,77.54 300.0,77.76 275.0,77.60 256.0,77.32 250.0,77.32" fill="url(#bando)" filter="url(#bl1)"/>
<polygon points="250.0,72.07 256.0,72.07 275.0,71.54 300.0,70.08 320.0,69.06 345.0,68.39 368.0,68.72 378.0,71.02 400.0,71.75 418.0,71.55 428.0,69.75 448.0,69.37 465.0,69.92 476.0,67.76 490.0,66.83 515.0,66.66 536.0,67.43 542.0,67.43 542.0,74.97 536.0,74.97 515.0,74.54 490.0,74.37 476.0,74.64 465.0,74.68 448.0,73.63 428.0,73.85 418.0,75.65 400.0,75.85 378.0,75.78 368.0,75.28 345.0,75.61 320.0,75.94 300.0,76.32 275.0,76.46 256.0,76.33 250.0,76.33" fill="url(#bandm)" filter="url(#bl2)"/>
<polygon points="250.0,73.11 256.0,73.11 275.0,72.74 300.0,71.60 320.0,70.74 345.0,70.15 368.0,70.32 378.0,72.18 400.0,72.75 418.0,72.55 428.0,70.75 448.0,70.41 465.0,71.08 476.0,69.44 490.0,68.67 515.0,68.58 536.0,69.27 542.0,69.27 542.0,73.13 536.0,73.13 515.0,72.62 490.0,72.53 476.0,72.96 465.0,73.52 448.0,72.59 428.0,72.85 418.0,74.65 400.0,74.85 378.0,74.62 368.0,73.68 345.0,73.85 320.0,74.26 300.0,74.80 275.0,75.26 256.0,75.29 250.0,75.29" fill="url(#bandc)" filter="url(#bl3)"/>
</g>
<path d="M301.3 30V253" stroke="#2a2a2a" stroke-width="0.55"/>
<rect x="372.9" y="30.5" width="2.5" height="222.5" fill="#fff000"/>
<rect x="446.7" y="30.5" width="2.5" height="218.5" fill="#fff000"/>
<path d="M511.1 35V85.2" stroke="#1a1020" stroke-width="0.75"/><circle cx="511.1" cy="35" r="1.2" fill="#111"/>
<text x="494.5" y="44.8" font-family='"Liberation Sans", sans-serif' font-weight="bold" font-size="8.6" fill="#38003a" textLength="33.3" lengthAdjust="spacingAndGlyphs">7324/8-1</text>
<text x="306" y="30.2" text-anchor="middle" font-family='"Liberation Sans", sans-serif' font-weight="bold" font-size="8.15" fill="#111" stroke="#111" stroke-width="0.2">605,927 m</text>
<text x="379.5" y="30.2" text-anchor="middle" font-family='"Liberation Sans", sans-serif' font-weight="bold" font-size="8.15" fill="#111" stroke="#111" stroke-width="0.2">606,025 m</text>
<text x="453.5" y="30.2" text-anchor="middle" font-family='"Liberation Sans", sans-serif' font-weight="bold" font-size="8.15" fill="#111" stroke="#111" stroke-width="0.2">607,392 m</text>
<text x="516.7" y="30.2" text-anchor="middle" font-family='"Liberation Sans", sans-serif' font-weight="bold" font-size="8.15" fill="#111" stroke="#111" stroke-width="0.2">608,180 m</text>
<text x="247.1" y="38.40" text-anchor="end" font-family='"Liberation Sans", sans-serif' font-weight="bold" font-size="8" fill="#111" stroke="#111" stroke-width="0.25">0 m</text>
<rect x="249.2" y="35.20" width="3" height="1.6" fill="#111"/>
<text x="247.1" y="65.53" text-anchor="end" font-family='"Liberation Sans", sans-serif' font-weight="bold" font-size="8" fill="#111" stroke="#111" stroke-width="0.25">−500 m</text>
<rect x="249.2" y="62.33" width="3" height="1.6" fill="#111"/>
<text x="247.1" y="92.65" text-anchor="end" font-family='"Liberation Sans", sans-serif' font-weight="bold" font-size="8" fill="#111" stroke="#111" stroke-width="0.25">−1000 m</text>
<rect x="249.2" y="89.45" width="3" height="1.6" fill="#111"/>
<text x="247.1" y="119.78" text-anchor="end" font-family='"Liberation Sans", sans-serif' font-weight="bold" font-size="8" fill="#111" stroke="#111" stroke-width="0.25">−1500 m</text>
<rect x="249.2" y="116.58" width="3" height="1.6" fill="#111"/>
<text x="247.1" y="146.90" text-anchor="end" font-family='"Liberation Sans", sans-serif' font-weight="bold" font-size="8" fill="#111" stroke="#111" stroke-width="0.25">−2000 m</text>
<rect x="249.2" y="143.70" width="3" height="1.6" fill="#111"/>
<text x="247.1" y="174.03" text-anchor="end" font-family='"Liberation Sans", sans-serif' font-weight="bold" font-size="8" fill="#111" stroke="#111" stroke-width="0.25">−2500 m</text>
<rect x="249.2" y="170.82" width="3" height="1.6" fill="#111"/>
<text x="247.1" y="201.15" text-anchor="end" font-family='"Liberation Sans", sans-serif' font-weight="bold" font-size="8" fill="#111" stroke="#111" stroke-width="0.25">−3000 m</text>
<rect x="249.2" y="197.95" width="3" height="1.6" fill="#111"/>
<text x="247.1" y="228.28" text-anchor="end" font-family='"Liberation Sans", sans-serif' font-weight="bold" font-size="8" fill="#111" stroke="#111" stroke-width="0.25">−3500 m</text>
<rect x="249.2" y="225.07" width="3" height="1.6" fill="#111"/>
<text x="247.1" y="255.40" text-anchor="end" font-family='"Liberation Sans", sans-serif' font-weight="bold" font-size="8" fill="#111" stroke="#111" stroke-width="0.25">−4000 m</text>
<rect x="249.2" y="252.20" width="3" height="1.6" fill="#111"/>
<rect x="256.6" y="115.4" width="47.6" height="137" rx="1" fill="#fff" stroke="#2a3a30" stroke-width="0.7"/>
<rect x="257" y="116" width="47" height="6.4" fill="#ececec"/>
<path d="M257 252.5H304" stroke="#702070" stroke-width="0.8"/>
<text x="258.3" y="120.8" font-family='"Liberation Sans", sans-serif' font-weight="bold" font-size="5" fill="#111" textLength="44.6" lengthAdjust="spacingAndGlyphs">Resistivity [ohm.m]</text>
<rect x="259.8" y="125.8" width="11.3" height="122.2" fill="url(#lgb)" stroke="#222" stroke-width="0.5"/>
<text x="274.4" y="142.40" font-family='"Liberation Sans", sans-serif' font-weight="bold" font-size="5.4" fill="#101028">1600.0000</text>
<path d="M271 140.50h2.6M271 134.73h1.6M271 128.97h1.6" stroke="#111" stroke-width="0.6"/>
<text x="274.4" y="159.70" font-family='"Liberation Sans", sans-serif' font-weight="bold" font-size="5.4" fill="#101028">400.0000</text>
<path d="M271 157.80h2.6M271 152.03h1.6M271 146.27h1.6" stroke="#111" stroke-width="0.6"/>
<text x="274.4" y="177.00" font-family='"Liberation Sans", sans-serif' font-weight="bold" font-size="5.4" fill="#101028">100.0000</text>
<path d="M271 175.10h2.6M271 169.33h1.6M271 163.57h1.6" stroke="#111" stroke-width="0.6"/>
<text x="274.4" y="194.30" font-family='"Liberation Sans", sans-serif' font-weight="bold" font-size="5.4" fill="#101028">25.0000</text>
<path d="M271 192.40h2.6M271 186.63h1.6M271 180.87h1.6" stroke="#111" stroke-width="0.6"/>
<text x="274.4" y="211.60" font-family='"Liberation Sans", sans-serif' font-weight="bold" font-size="5.4" fill="#101028">6.3000</text>
<path d="M271 209.70h2.6M271 203.93h1.6M271 198.17h1.6" stroke="#111" stroke-width="0.6"/>
<text x="274.4" y="228.90" font-family='"Liberation Sans", sans-serif' font-weight="bold" font-size="5.4" fill="#101028">1.6000</text>
<path d="M271 227.00h2.6M271 221.23h1.6M271 215.47h1.6" stroke="#111" stroke-width="0.6"/>
<text x="274.4" y="246.20" font-family='"Liberation Sans", sans-serif' font-weight="bold" font-size="5.4" fill="#101028">0.4000</text>
<path d="M271 244.30h2.6M271 238.53h1.6M271 232.77h1.6" stroke="#111" stroke-width="0.6"/>
<text x="441.8" y="253.6" font-family='"Liberation Sans", sans-serif' font-weight="bold" font-size="5" fill="#112" textLength="31.6" lengthAdjust="spacingAndGlyphs">0 &#160;250 &#160;500m</text>
<path d="M448.2 249.5V256" stroke="#333" stroke-width="0.5"/>
<rect x="443" y="256.5" width="2.2" height="2.4" fill="#111"/><rect x="448.8" y="256.5" width="2.2" height="2.4" fill="#111"/><rect x="454" y="256.5" width="11" height="2.4" fill="#111"/>
</svg></body></html>
